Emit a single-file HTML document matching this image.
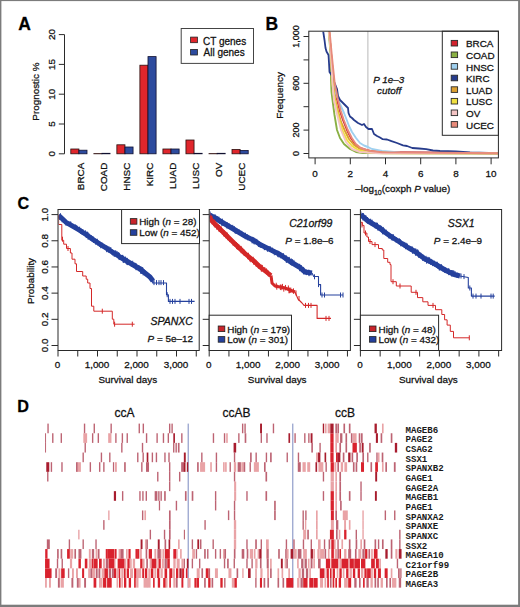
<!DOCTYPE html>
<html><head><meta charset="utf-8"><style>
html,body{margin:0;padding:0;background:#fff;}
svg{display:block;}
text{stroke:#222;stroke-width:0.28px;paint-order:stroke;}
</style></head><body>
<svg width="520" height="607" viewBox="0 0 520 607">
<rect x="0" y="0" width="520" height="607" fill="#7c7c7c"/>
<rect x="1.4" y="1.1" width="516.7" height="603.6" fill="#fff"/>
<text x="18.30" y="30.00" font-family="Liberation Sans, sans-serif" font-size="17.5" text-anchor="start" font-weight="bold" fill="#000">A</text>
<line x1="64.50" y1="153.80" x2="64.50" y2="34.60" stroke="#2a2a2a" stroke-width="1"/>
<line x1="58.80" y1="153.80" x2="64.50" y2="153.80" stroke="#2a2a2a" stroke-width="1"/>
<text transform="translate(54.80,153.80) rotate(-90)" font-family="Liberation Sans, sans-serif" font-size="9.9" text-anchor="middle" fill="#111">0</text>
<line x1="58.80" y1="124.00" x2="64.50" y2="124.00" stroke="#2a2a2a" stroke-width="1"/>
<text transform="translate(54.80,124.00) rotate(-90)" font-family="Liberation Sans, sans-serif" font-size="9.9" text-anchor="middle" fill="#111">5</text>
<line x1="58.80" y1="94.20" x2="64.50" y2="94.20" stroke="#2a2a2a" stroke-width="1"/>
<text transform="translate(54.80,94.20) rotate(-90)" font-family="Liberation Sans, sans-serif" font-size="9.9" text-anchor="middle" fill="#111">10</text>
<line x1="58.80" y1="64.40" x2="64.50" y2="64.40" stroke="#2a2a2a" stroke-width="1"/>
<text transform="translate(54.80,64.40) rotate(-90)" font-family="Liberation Sans, sans-serif" font-size="9.9" text-anchor="middle" fill="#111">15</text>
<line x1="58.80" y1="34.60" x2="64.50" y2="34.60" stroke="#2a2a2a" stroke-width="1"/>
<text transform="translate(54.80,34.60) rotate(-90)" font-family="Liberation Sans, sans-serif" font-size="9.9" text-anchor="middle" fill="#111">20</text>
<text transform="translate(38.60,91.60) rotate(-90)" font-family="Liberation Sans, sans-serif" font-size="9.9" text-anchor="middle" fill="#111">Prognostic %</text>
<rect x="70.80" y="149.00" width="8.10" height="4.80" fill="#e0262c" stroke="#2a1010" stroke-width="0.8"/>
<rect x="78.90" y="150.20" width="8.10" height="3.60" fill="#2d4b9e" stroke="#101030" stroke-width="0.8"/>
<text transform="translate(83.60,162.70) rotate(-90)" font-family="Liberation Sans, sans-serif" font-size="9.9" text-anchor="end" fill="#111">BRCA</text>
<rect x="93.83" y="153.60" width="8.10" height="0.20" fill="#e0262c" stroke="#2a1010" stroke-width="0.8"/>
<rect x="101.93" y="153.30" width="8.10" height="0.50" fill="#2d4b9e" stroke="#101030" stroke-width="0.8"/>
<text transform="translate(106.63,162.70) rotate(-90)" font-family="Liberation Sans, sans-serif" font-size="9.9" text-anchor="end" fill="#111">COAD</text>
<rect x="116.86" y="144.80" width="8.10" height="9.00" fill="#e0262c" stroke="#2a1010" stroke-width="0.8"/>
<rect x="124.96" y="147.00" width="8.10" height="6.80" fill="#2d4b9e" stroke="#101030" stroke-width="0.8"/>
<text transform="translate(129.66,162.70) rotate(-90)" font-family="Liberation Sans, sans-serif" font-size="9.9" text-anchor="end" fill="#111">HNSC</text>
<rect x="139.89" y="65.20" width="8.10" height="88.60" fill="#e0262c" stroke="#2a1010" stroke-width="0.8"/>
<rect x="147.99" y="56.60" width="8.10" height="97.20" fill="#2d4b9e" stroke="#101030" stroke-width="0.8"/>
<text transform="translate(152.69,162.70) rotate(-90)" font-family="Liberation Sans, sans-serif" font-size="9.9" text-anchor="end" fill="#111">KIRC</text>
<rect x="162.92" y="149.00" width="8.10" height="4.80" fill="#e0262c" stroke="#2a1010" stroke-width="0.8"/>
<rect x="171.02" y="149.00" width="8.10" height="4.80" fill="#2d4b9e" stroke="#101030" stroke-width="0.8"/>
<text transform="translate(175.72,162.70) rotate(-90)" font-family="Liberation Sans, sans-serif" font-size="9.9" text-anchor="end" fill="#111">LUAD</text>
<rect x="185.95" y="140.00" width="8.10" height="13.80" fill="#e0262c" stroke="#2a1010" stroke-width="0.8"/>
<rect x="194.05" y="153.30" width="8.10" height="0.50" fill="#2d4b9e" stroke="#101030" stroke-width="0.8"/>
<text transform="translate(198.75,162.70) rotate(-90)" font-family="Liberation Sans, sans-serif" font-size="9.9" text-anchor="end" fill="#111">LUSC</text>
<rect x="208.98" y="153.60" width="8.10" height="0.20" fill="#e0262c" stroke="#2a1010" stroke-width="0.8"/>
<rect x="217.08" y="153.30" width="8.10" height="0.50" fill="#2d4b9e" stroke="#101030" stroke-width="0.8"/>
<text transform="translate(221.78,162.70) rotate(-90)" font-family="Liberation Sans, sans-serif" font-size="9.9" text-anchor="end" fill="#111">OV</text>
<rect x="232.01" y="149.40" width="8.10" height="4.40" fill="#e0262c" stroke="#2a1010" stroke-width="0.8"/>
<rect x="240.11" y="150.40" width="8.10" height="3.40" fill="#2d4b9e" stroke="#101030" stroke-width="0.8"/>
<text transform="translate(244.81,162.70) rotate(-90)" font-family="Liberation Sans, sans-serif" font-size="9.9" text-anchor="end" fill="#111">UCEC</text>
<rect x="181.20" y="28.50" width="72.30" height="34.90" fill="none" stroke="#444" stroke-width="1"/>
<rect x="190.60" y="37.10" width="6.80" height="5.60" fill="#e0262c" stroke="#222" stroke-width="0.8"/>
<rect x="190.60" y="49.40" width="6.80" height="5.60" fill="#2d4b9e" stroke="#222" stroke-width="0.8"/>
<text x="203.00" y="44.80" font-family="Liberation Sans, sans-serif" font-size="10" text-anchor="start" fill="#111">CT genes</text>
<text x="203.50" y="55.90" font-family="Liberation Sans, sans-serif" font-size="10" text-anchor="start" fill="#111">All genes</text>
<text x="265.60" y="30.00" font-family="Liberation Sans, sans-serif" font-size="17.5" text-anchor="start" font-weight="bold" fill="#000">B</text>
<line x1="367.90" y1="31.20" x2="367.90" y2="157.90" stroke="#b8b8b8" stroke-width="1"/>
<text x="388.70" y="82.90" font-family="Liberation Sans, sans-serif" font-size="9.9" text-anchor="middle" font-style="italic" fill="#111">P 1e–3</text>
<text x="389.20" y="93.70" font-family="Liberation Sans, sans-serif" font-size="9.9" text-anchor="middle" font-style="italic" fill="#111">cutoff</text>
<defs><clipPath id="cb"><rect x="309.3" y="31.7" width="188.6" height="125.7"/></clipPath></defs>
<g clip-path="url(#cb)">
<polyline points="328.8,28.0 331.0,53.0 332.0,64.0 334.0,84.0 337.0,99.0 340.0,111.0 343.0,120.0 347.0,130.0 351.0,138.0 355.0,144.0 360.0,148.0 366.0,150.0 370.0,151.0 382.0,152.0 498.0,153.2" fill="none" stroke="#d2222e" stroke-width="1.9" stroke-linejoin="round"/>
<polyline points="328.5,28.0 330.5,53.0 331.0,64.0 331.0,80.0 331.5,92.0 333.0,104.0 334.5,115.0 336.0,124.0 337.0,130.0 340.0,138.0 344.0,144.0 350.0,149.0 356.0,152.0 363.0,153.0 498.0,153.5" fill="none" stroke="#8ab044" stroke-width="1.9" stroke-linejoin="round"/>
<polyline points="328.8,28.0 331.0,53.0 333.0,73.0 334.5,85.0 336.0,94.0 340.0,104.0 344.0,113.0 346.0,118.0 349.0,126.0 352.0,132.0 356.0,138.0 360.0,143.0 364.0,145.5 368.0,147.0 372.0,149.0 382.0,151.0 400.0,152.5 498.0,153.3" fill="none" stroke="#9fd0ef" stroke-width="1.9" stroke-linejoin="round"/>
<polyline points="322.9,28.0 323.2,31.5 324.5,40.0 325.5,48.0 326.5,51.5 328.5,55.0 329.0,63.0 329.5,72.0 331.5,75.0 334.0,82.0 335.0,84.0 337.0,89.0 338.0,96.0 340.0,100.0 343.0,103.0 346.0,106.0 348.0,108.0 348.5,113.0 350.0,116.5 352.0,118.0 354.0,120.0 358.0,123.0 362.0,125.0 364.0,124.0 366.0,127.0 368.5,129.0 372.0,129.0 374.0,134.0 377.0,136.0 380.0,137.5 382.7,139.2 387.0,139.5 391.5,141.2 397.0,143.0 403.0,145.3 407.0,146.0 412.3,148.0 419.0,148.5 426.2,149.2 433.0,150.5 440.0,151.0 456.0,151.5 470.0,152.5 498.0,153.2" fill="none" stroke="#273c8c" stroke-width="1.8" stroke-linejoin="round"/>
<polyline points="328.8,28.0 331.0,53.0 331.5,64.0 333.0,84.0 335.0,99.0 338.0,111.0 341.0,122.0 345.0,131.0 349.0,139.0 354.0,145.0 360.0,149.0 370.0,151.5 390.0,153.0 498.0,153.4" fill="none" stroke="#dca030" stroke-width="1.9" stroke-linejoin="round"/>
<polyline points="328.6,28.0 331.0,53.0 331.5,64.0 332.5,84.0 334.5,99.0 337.0,111.0 340.0,122.0 343.0,132.0 347.0,140.0 352.0,146.0 358.0,150.0 368.0,152.5 385.0,153.3 498.0,153.4" fill="none" stroke="#f0e040" stroke-width="1.9" stroke-linejoin="round"/>
<polyline points="328.6,28.0 331.0,53.0 331.5,64.0 332.5,84.0 334.0,100.0 336.5,112.0 339.0,122.0 341.0,130.0 346.0,142.0 352.0,149.0 360.0,152.0 380.0,153.3 498.0,153.4" fill="none" stroke="#f4c4c4" stroke-width="1.9" stroke-linejoin="round"/>
<polyline points="329.3,28.0 331.6,53.0 332.7,64.0 334.8,84.0 337.8,99.0 340.8,111.0 343.8,120.0 347.8,130.0 351.8,138.0 355.8,144.0 360.8,148.0 366.8,150.0 371.0,151.0 382.0,152.3 498.0,153.2" fill="none" stroke="#e88a7a" stroke-width="1.9" stroke-linejoin="round"/>
</g>
<rect x="308.80" y="31.20" width="189.60" height="126.70" fill="none" stroke="#2a2a2a" stroke-width="1"/>
<line x1="303.50" y1="153.50" x2="308.80" y2="153.50" stroke="#2a2a2a" stroke-width="1"/>
<line x1="303.50" y1="130.10" x2="308.80" y2="130.10" stroke="#2a2a2a" stroke-width="1"/>
<line x1="303.50" y1="106.70" x2="308.80" y2="106.70" stroke="#2a2a2a" stroke-width="1"/>
<line x1="303.50" y1="83.30" x2="308.80" y2="83.30" stroke="#2a2a2a" stroke-width="1"/>
<line x1="303.50" y1="59.90" x2="308.80" y2="59.90" stroke="#2a2a2a" stroke-width="1"/>
<line x1="303.50" y1="36.50" x2="308.80" y2="36.50" stroke="#2a2a2a" stroke-width="1"/>
<text transform="translate(299.20,153.50) rotate(-90)" font-family="Liberation Sans, sans-serif" font-size="9" text-anchor="middle" fill="#111">0</text>
<text transform="translate(299.20,130.10) rotate(-90)" font-family="Liberation Sans, sans-serif" font-size="9" text-anchor="middle" fill="#111">200</text>
<text transform="translate(299.20,83.30) rotate(-90)" font-family="Liberation Sans, sans-serif" font-size="9" text-anchor="middle" fill="#111">600</text>
<text transform="translate(299.20,36.50) rotate(-90)" font-family="Liberation Sans, sans-serif" font-size="9" text-anchor="middle" fill="#111">1,000</text>
<text transform="translate(283.30,95.40) rotate(-90)" font-family="Liberation Sans, sans-serif" font-size="9.9" text-anchor="middle" fill="#111">Frequency</text>
<line x1="315.10" y1="157.90" x2="315.10" y2="164.30" stroke="#2a2a2a" stroke-width="1"/>
<text x="315.10" y="176.60" font-family="Liberation Sans, sans-serif" font-size="9.9" text-anchor="middle" fill="#111">0</text>
<line x1="350.30" y1="157.90" x2="350.30" y2="164.30" stroke="#2a2a2a" stroke-width="1"/>
<text x="350.30" y="176.60" font-family="Liberation Sans, sans-serif" font-size="9.9" text-anchor="middle" fill="#111">2</text>
<line x1="385.50" y1="157.90" x2="385.50" y2="164.30" stroke="#2a2a2a" stroke-width="1"/>
<text x="385.50" y="176.60" font-family="Liberation Sans, sans-serif" font-size="9.9" text-anchor="middle" fill="#111">4</text>
<line x1="420.70" y1="157.90" x2="420.70" y2="164.30" stroke="#2a2a2a" stroke-width="1"/>
<text x="420.70" y="176.60" font-family="Liberation Sans, sans-serif" font-size="9.9" text-anchor="middle" fill="#111">6</text>
<line x1="455.90" y1="157.90" x2="455.90" y2="164.30" stroke="#2a2a2a" stroke-width="1"/>
<text x="455.90" y="176.60" font-family="Liberation Sans, sans-serif" font-size="9.9" text-anchor="middle" fill="#111">8</text>
<line x1="491.10" y1="157.90" x2="491.10" y2="164.30" stroke="#2a2a2a" stroke-width="1"/>
<text x="491.10" y="176.60" font-family="Liberation Sans, sans-serif" font-size="9.9" text-anchor="middle" fill="#111">10</text>
<text x="355.30" y="191.90" font-family="Liberation Sans, sans-serif" font-size="9.9" text-anchor="start" fill="#111">–log<tspan font-size="7" dy="2.6">10</tspan><tspan dy="-2.6">(coxph </tspan><tspan font-style="italic">P</tspan> value)</text>
<rect x="442.30" y="31.20" width="56.10" height="104.10" fill="none" stroke="#2a2a2a" stroke-width="1"/>
<rect x="451.20" y="40.40" width="6.40" height="5.60" fill="#d2222e" stroke="#2a2a2a" stroke-width="0.9"/>
<text x="466.00" y="47.40" font-family="Liberation Sans, sans-serif" font-size="9.9" text-anchor="start" fill="#111">BRCA</text>
<rect x="451.20" y="52.00" width="6.40" height="5.60" fill="#8ab044" stroke="#2a2a2a" stroke-width="0.9"/>
<text x="466.00" y="59.00" font-family="Liberation Sans, sans-serif" font-size="9.9" text-anchor="start" fill="#111">COAD</text>
<rect x="451.20" y="63.60" width="6.40" height="5.60" fill="#9fd0ef" stroke="#2a2a2a" stroke-width="0.9"/>
<text x="466.00" y="70.60" font-family="Liberation Sans, sans-serif" font-size="9.9" text-anchor="start" fill="#111">HNSC</text>
<rect x="451.20" y="75.20" width="6.40" height="5.60" fill="#273c8c" stroke="#2a2a2a" stroke-width="0.9"/>
<text x="466.00" y="82.20" font-family="Liberation Sans, sans-serif" font-size="9.9" text-anchor="start" fill="#111">KIRC</text>
<rect x="451.20" y="86.80" width="6.40" height="5.60" fill="#dca030" stroke="#2a2a2a" stroke-width="0.9"/>
<text x="466.00" y="93.80" font-family="Liberation Sans, sans-serif" font-size="9.9" text-anchor="start" fill="#111">LUAD</text>
<rect x="451.20" y="98.40" width="6.40" height="5.60" fill="#f0e040" stroke="#2a2a2a" stroke-width="0.9"/>
<text x="466.00" y="105.40" font-family="Liberation Sans, sans-serif" font-size="9.9" text-anchor="start" fill="#111">LUSC</text>
<rect x="451.20" y="110.00" width="6.40" height="5.60" fill="#f4c4c4" stroke="#2a2a2a" stroke-width="0.9"/>
<text x="466.00" y="117.00" font-family="Liberation Sans, sans-serif" font-size="9.9" text-anchor="start" fill="#111">OV</text>
<rect x="451.20" y="121.60" width="6.40" height="5.60" fill="#e88a7a" stroke="#2a2a2a" stroke-width="0.9"/>
<text x="466.00" y="128.60" font-family="Liberation Sans, sans-serif" font-size="9.9" text-anchor="start" fill="#111">UCEC</text>
<text x="17.40" y="208.80" font-family="Liberation Sans, sans-serif" font-size="16.2" text-anchor="start" font-weight="bold" fill="#000">C</text>
<line x1="51.50" y1="345.50" x2="58.00" y2="345.50" stroke="#2a2a2a" stroke-width="1"/>
<text transform="translate(48.40,345.50) rotate(-90)" font-family="Liberation Sans, sans-serif" font-size="9.9" text-anchor="middle" fill="#111">0.0</text>
<line x1="51.50" y1="319.32" x2="58.00" y2="319.32" stroke="#2a2a2a" stroke-width="1"/>
<text transform="translate(48.40,319.32) rotate(-90)" font-family="Liberation Sans, sans-serif" font-size="9.9" text-anchor="middle" fill="#111">0.2</text>
<line x1="51.50" y1="293.14" x2="58.00" y2="293.14" stroke="#2a2a2a" stroke-width="1"/>
<text transform="translate(48.40,293.14) rotate(-90)" font-family="Liberation Sans, sans-serif" font-size="9.9" text-anchor="middle" fill="#111">0.4</text>
<line x1="51.50" y1="266.96" x2="58.00" y2="266.96" stroke="#2a2a2a" stroke-width="1"/>
<text transform="translate(48.40,266.96) rotate(-90)" font-family="Liberation Sans, sans-serif" font-size="9.9" text-anchor="middle" fill="#111">0.6</text>
<line x1="51.50" y1="240.78" x2="58.00" y2="240.78" stroke="#2a2a2a" stroke-width="1"/>
<text transform="translate(48.40,240.78) rotate(-90)" font-family="Liberation Sans, sans-serif" font-size="9.9" text-anchor="middle" fill="#111">0.8</text>
<line x1="51.50" y1="214.60" x2="58.00" y2="214.60" stroke="#2a2a2a" stroke-width="1"/>
<text transform="translate(48.40,214.60) rotate(-90)" font-family="Liberation Sans, sans-serif" font-size="9.9" text-anchor="middle" fill="#111">1.0</text>
<line x1="58.00" y1="350.50" x2="58.00" y2="356.50" stroke="#2a2a2a" stroke-width="1"/>
<line x1="77.75" y1="350.50" x2="77.75" y2="356.50" stroke="#2a2a2a" stroke-width="1"/>
<line x1="97.50" y1="350.50" x2="97.50" y2="356.50" stroke="#2a2a2a" stroke-width="1"/>
<line x1="117.25" y1="350.50" x2="117.25" y2="356.50" stroke="#2a2a2a" stroke-width="1"/>
<line x1="137.00" y1="350.50" x2="137.00" y2="356.50" stroke="#2a2a2a" stroke-width="1"/>
<line x1="156.75" y1="350.50" x2="156.75" y2="356.50" stroke="#2a2a2a" stroke-width="1"/>
<line x1="176.50" y1="350.50" x2="176.50" y2="356.50" stroke="#2a2a2a" stroke-width="1"/>
<line x1="196.25" y1="350.50" x2="196.25" y2="356.50" stroke="#2a2a2a" stroke-width="1"/>
<text x="57.50" y="368.30" font-family="Liberation Sans, sans-serif" font-size="9.9" text-anchor="middle" fill="#111">0</text>
<text x="97.00" y="368.30" font-family="Liberation Sans, sans-serif" font-size="9.9" text-anchor="middle" fill="#111">1,000</text>
<text x="136.50" y="368.30" font-family="Liberation Sans, sans-serif" font-size="9.9" text-anchor="middle" fill="#111">2,000</text>
<text x="176.00" y="368.30" font-family="Liberation Sans, sans-serif" font-size="9.9" text-anchor="middle" fill="#111">3,000</text>
<text x="127.80" y="383.20" font-family="Liberation Sans, sans-serif" font-size="9.9" text-anchor="middle" fill="#111">Survival days</text>
<line x1="202.70" y1="345.50" x2="209.20" y2="345.50" stroke="#2a2a2a" stroke-width="1"/>
<line x1="202.70" y1="319.32" x2="209.20" y2="319.32" stroke="#2a2a2a" stroke-width="1"/>
<line x1="202.70" y1="293.14" x2="209.20" y2="293.14" stroke="#2a2a2a" stroke-width="1"/>
<line x1="202.70" y1="266.96" x2="209.20" y2="266.96" stroke="#2a2a2a" stroke-width="1"/>
<line x1="202.70" y1="240.78" x2="209.20" y2="240.78" stroke="#2a2a2a" stroke-width="1"/>
<line x1="202.70" y1="214.60" x2="209.20" y2="214.60" stroke="#2a2a2a" stroke-width="1"/>
<line x1="209.20" y1="350.50" x2="209.20" y2="356.50" stroke="#2a2a2a" stroke-width="1"/>
<line x1="228.95" y1="350.50" x2="228.95" y2="356.50" stroke="#2a2a2a" stroke-width="1"/>
<line x1="248.70" y1="350.50" x2="248.70" y2="356.50" stroke="#2a2a2a" stroke-width="1"/>
<line x1="268.45" y1="350.50" x2="268.45" y2="356.50" stroke="#2a2a2a" stroke-width="1"/>
<line x1="288.20" y1="350.50" x2="288.20" y2="356.50" stroke="#2a2a2a" stroke-width="1"/>
<line x1="307.95" y1="350.50" x2="307.95" y2="356.50" stroke="#2a2a2a" stroke-width="1"/>
<line x1="327.70" y1="350.50" x2="327.70" y2="356.50" stroke="#2a2a2a" stroke-width="1"/>
<line x1="347.45" y1="350.50" x2="347.45" y2="356.50" stroke="#2a2a2a" stroke-width="1"/>
<text x="208.70" y="368.30" font-family="Liberation Sans, sans-serif" font-size="9.9" text-anchor="middle" fill="#111">0</text>
<text x="248.20" y="368.30" font-family="Liberation Sans, sans-serif" font-size="9.9" text-anchor="middle" fill="#111">1,000</text>
<text x="287.70" y="368.30" font-family="Liberation Sans, sans-serif" font-size="9.9" text-anchor="middle" fill="#111">2,000</text>
<text x="327.20" y="368.30" font-family="Liberation Sans, sans-serif" font-size="9.9" text-anchor="middle" fill="#111">3,000</text>
<text x="277.20" y="383.20" font-family="Liberation Sans, sans-serif" font-size="9.9" text-anchor="middle" fill="#111">Survival days</text>
<line x1="353.90" y1="345.50" x2="360.40" y2="345.50" stroke="#2a2a2a" stroke-width="1"/>
<line x1="353.90" y1="319.32" x2="360.40" y2="319.32" stroke="#2a2a2a" stroke-width="1"/>
<line x1="353.90" y1="293.14" x2="360.40" y2="293.14" stroke="#2a2a2a" stroke-width="1"/>
<line x1="353.90" y1="266.96" x2="360.40" y2="266.96" stroke="#2a2a2a" stroke-width="1"/>
<line x1="353.90" y1="240.78" x2="360.40" y2="240.78" stroke="#2a2a2a" stroke-width="1"/>
<line x1="353.90" y1="214.60" x2="360.40" y2="214.60" stroke="#2a2a2a" stroke-width="1"/>
<line x1="360.40" y1="350.50" x2="360.40" y2="356.50" stroke="#2a2a2a" stroke-width="1"/>
<line x1="380.15" y1="350.50" x2="380.15" y2="356.50" stroke="#2a2a2a" stroke-width="1"/>
<line x1="399.90" y1="350.50" x2="399.90" y2="356.50" stroke="#2a2a2a" stroke-width="1"/>
<line x1="419.65" y1="350.50" x2="419.65" y2="356.50" stroke="#2a2a2a" stroke-width="1"/>
<line x1="439.40" y1="350.50" x2="439.40" y2="356.50" stroke="#2a2a2a" stroke-width="1"/>
<line x1="459.15" y1="350.50" x2="459.15" y2="356.50" stroke="#2a2a2a" stroke-width="1"/>
<line x1="478.90" y1="350.50" x2="478.90" y2="356.50" stroke="#2a2a2a" stroke-width="1"/>
<line x1="498.65" y1="350.50" x2="498.65" y2="356.50" stroke="#2a2a2a" stroke-width="1"/>
<text x="359.90" y="368.30" font-family="Liberation Sans, sans-serif" font-size="9.9" text-anchor="middle" fill="#111">0</text>
<text x="399.40" y="368.30" font-family="Liberation Sans, sans-serif" font-size="9.9" text-anchor="middle" fill="#111">1,000</text>
<text x="438.90" y="368.30" font-family="Liberation Sans, sans-serif" font-size="9.9" text-anchor="middle" fill="#111">2,000</text>
<text x="478.40" y="368.30" font-family="Liberation Sans, sans-serif" font-size="9.9" text-anchor="middle" fill="#111">3,000</text>
<text x="428.40" y="383.20" font-family="Liberation Sans, sans-serif" font-size="9.9" text-anchor="middle" fill="#111">Survival days</text>
<text transform="translate(34.20,281.00) rotate(-90)" font-family="Liberation Sans, sans-serif" font-size="9.9" text-anchor="middle" fill="#111">Probability</text>
<defs><clipPath id="kmc"><rect x="58.5" y="209.9" width="140.4" height="140.2"/><rect x="209.7" y="209.9" width="140.4" height="140.2"/><rect x="360.9" y="209.9" width="140.4" height="140.2"/></clipPath></defs>
<g clip-path="url(#kmc)">
<polyline points="58.6,215.3 66.0,222.3 76.0,228.0 86.0,234.5 96.0,241.5 107.5,248.8 120.0,257.0 130.0,263.0 140.0,269.0 145.0,273.0 150.0,277.0 153.0,281.0" fill="none" stroke="#25419d" stroke-width="5.0" stroke-linejoin="round" stroke-linecap="butt"/>
<line x1="80.86" y1="228.51" x2="80.86" y2="234.01" stroke="#25419d" stroke-width="1"/>
<line x1="93.47" y1="237.23" x2="93.47" y2="242.73" stroke="#25419d" stroke-width="1"/>
<line x1="118.24" y1="252.05" x2="118.24" y2="257.55" stroke="#25419d" stroke-width="1"/>
<line x1="59.71" y1="214.41" x2="59.71" y2="219.91" stroke="#25419d" stroke-width="1"/>
<line x1="82.93" y1="229.12" x2="82.93" y2="234.62" stroke="#25419d" stroke-width="1"/>
<line x1="152.70" y1="277.78" x2="152.70" y2="283.28" stroke="#25419d" stroke-width="1"/>
<line x1="139.07" y1="265.63" x2="139.07" y2="271.13" stroke="#25419d" stroke-width="1"/>
<line x1="119.52" y1="253.10" x2="119.52" y2="258.60" stroke="#25419d" stroke-width="1"/>
<line x1="119.12" y1="254.55" x2="119.12" y2="260.05" stroke="#25419d" stroke-width="1"/>
<line x1="108.33" y1="247.17" x2="108.33" y2="252.67" stroke="#25419d" stroke-width="1"/>
<line x1="122.72" y1="254.83" x2="122.72" y2="260.33" stroke="#25419d" stroke-width="1"/>
<line x1="131.32" y1="261.26" x2="131.32" y2="266.76" stroke="#25419d" stroke-width="1"/>
<line x1="86.97" y1="231.30" x2="86.97" y2="236.80" stroke="#25419d" stroke-width="1"/>
<line x1="141.77" y1="267.60" x2="141.77" y2="273.10" stroke="#25419d" stroke-width="1"/>
<line x1="127.41" y1="259.61" x2="127.41" y2="265.11" stroke="#25419d" stroke-width="1"/>
<line x1="126.95" y1="259.43" x2="126.95" y2="264.93" stroke="#25419d" stroke-width="1"/>
<line x1="95.84" y1="239.36" x2="95.84" y2="244.86" stroke="#25419d" stroke-width="1"/>
<line x1="100.68" y1="242.76" x2="100.68" y2="248.26" stroke="#25419d" stroke-width="1"/>
<line x1="142.98" y1="267.66" x2="142.98" y2="273.16" stroke="#25419d" stroke-width="1"/>
<line x1="70.80" y1="221.61" x2="70.80" y2="227.11" stroke="#25419d" stroke-width="1"/>
<line x1="150.61" y1="274.91" x2="150.61" y2="280.41" stroke="#25419d" stroke-width="1"/>
<line x1="118.32" y1="252.67" x2="118.32" y2="258.17" stroke="#25419d" stroke-width="1"/>
<line x1="106.78" y1="245.32" x2="106.78" y2="250.82" stroke="#25419d" stroke-width="1"/>
<line x1="91.67" y1="235.92" x2="91.67" y2="241.42" stroke="#25419d" stroke-width="1"/>
<line x1="114.23" y1="251.43" x2="114.23" y2="256.93" stroke="#25419d" stroke-width="1"/>
<line x1="123.76" y1="257.54" x2="123.76" y2="263.04" stroke="#25419d" stroke-width="1"/>
<line x1="140.95" y1="268.19" x2="140.95" y2="273.69" stroke="#25419d" stroke-width="1"/>
<line x1="122.70" y1="255.06" x2="122.70" y2="260.56" stroke="#25419d" stroke-width="1"/>
<line x1="141.33" y1="268.43" x2="141.33" y2="273.93" stroke="#25419d" stroke-width="1"/>
<line x1="145.31" y1="270.66" x2="145.31" y2="276.16" stroke="#25419d" stroke-width="1"/>
<line x1="126.92" y1="257.71" x2="126.92" y2="263.21" stroke="#25419d" stroke-width="1"/>
<line x1="138.59" y1="265.58" x2="138.59" y2="271.08" stroke="#25419d" stroke-width="1"/>
<line x1="85.41" y1="230.32" x2="85.41" y2="235.82" stroke="#25419d" stroke-width="1"/>
<line x1="140.73" y1="268.01" x2="140.73" y2="273.51" stroke="#25419d" stroke-width="1"/>
<line x1="66.04" y1="220.29" x2="66.04" y2="225.79" stroke="#25419d" stroke-width="1"/>
<line x1="97.34" y1="238.76" x2="97.34" y2="244.26" stroke="#25419d" stroke-width="1"/>
<line x1="86.27" y1="232.58" x2="86.27" y2="238.08" stroke="#25419d" stroke-width="1"/>
<line x1="142.43" y1="267.10" x2="142.43" y2="272.60" stroke="#25419d" stroke-width="1"/>
<line x1="117.15" y1="251.29" x2="117.15" y2="256.79" stroke="#25419d" stroke-width="1"/>
<line x1="127.38" y1="258.27" x2="127.38" y2="263.77" stroke="#25419d" stroke-width="1"/>
<line x1="143.16" y1="269.93" x2="143.16" y2="275.43" stroke="#25419d" stroke-width="1"/>
<line x1="106.61" y1="246.68" x2="106.61" y2="252.18" stroke="#25419d" stroke-width="1"/>
<line x1="87.76" y1="231.97" x2="87.76" y2="237.47" stroke="#25419d" stroke-width="1"/>
<line x1="115.73" y1="250.32" x2="115.73" y2="255.82" stroke="#25419d" stroke-width="1"/>
<line x1="76.93" y1="225.63" x2="76.93" y2="231.13" stroke="#25419d" stroke-width="1"/>
<line x1="116.76" y1="251.30" x2="116.76" y2="256.80" stroke="#25419d" stroke-width="1"/>
<line x1="62.16" y1="216.80" x2="62.16" y2="222.30" stroke="#25419d" stroke-width="1"/>
<line x1="88.16" y1="234.36" x2="88.16" y2="239.86" stroke="#25419d" stroke-width="1"/>
<line x1="144.58" y1="269.62" x2="144.58" y2="275.12" stroke="#25419d" stroke-width="1"/>
<line x1="102.22" y1="242.74" x2="102.22" y2="248.24" stroke="#25419d" stroke-width="1"/>
<line x1="119.99" y1="254.47" x2="119.99" y2="259.97" stroke="#25419d" stroke-width="1"/>
<line x1="111.82" y1="249.17" x2="111.82" y2="254.67" stroke="#25419d" stroke-width="1"/>
<line x1="148.55" y1="273.10" x2="148.55" y2="278.60" stroke="#25419d" stroke-width="1"/>
<line x1="99.37" y1="241.41" x2="99.37" y2="246.91" stroke="#25419d" stroke-width="1"/>
<line x1="80.83" y1="227.91" x2="80.83" y2="233.41" stroke="#25419d" stroke-width="1"/>
<line x1="151.46" y1="276.25" x2="151.46" y2="281.75" stroke="#25419d" stroke-width="1"/>
<line x1="110.77" y1="247.02" x2="110.77" y2="252.52" stroke="#25419d" stroke-width="1"/>
<line x1="97.81" y1="240.09" x2="97.81" y2="245.59" stroke="#25419d" stroke-width="1"/>
<line x1="60.28" y1="214.42" x2="60.28" y2="219.92" stroke="#25419d" stroke-width="1"/>
<line x1="118.86" y1="252.45" x2="118.86" y2="257.95" stroke="#25419d" stroke-width="1"/>
<line x1="118.39" y1="253.11" x2="118.39" y2="258.61" stroke="#25419d" stroke-width="1"/>
<line x1="123.50" y1="255.99" x2="123.50" y2="261.49" stroke="#25419d" stroke-width="1"/>
<line x1="126.24" y1="258.56" x2="126.24" y2="264.06" stroke="#25419d" stroke-width="1"/>
<line x1="60.46" y1="213.26" x2="60.46" y2="218.76" stroke="#25419d" stroke-width="1"/>
<line x1="123.17" y1="257.27" x2="123.17" y2="262.77" stroke="#25419d" stroke-width="1"/>
<line x1="82.13" y1="229.13" x2="82.13" y2="234.63" stroke="#25419d" stroke-width="1"/>
<line x1="115.04" y1="250.57" x2="115.04" y2="256.07" stroke="#25419d" stroke-width="1"/>
<line x1="92.90" y1="236.13" x2="92.90" y2="241.63" stroke="#25419d" stroke-width="1"/>
<line x1="93.39" y1="237.16" x2="93.39" y2="242.66" stroke="#25419d" stroke-width="1"/>
<line x1="86.89" y1="232.08" x2="86.89" y2="237.58" stroke="#25419d" stroke-width="1"/>
<line x1="132.71" y1="260.74" x2="132.71" y2="266.24" stroke="#25419d" stroke-width="1"/>
<line x1="112.78" y1="250.08" x2="112.78" y2="255.58" stroke="#25419d" stroke-width="1"/>
<line x1="87.80" y1="232.34" x2="87.80" y2="237.84" stroke="#25419d" stroke-width="1"/>
<line x1="135.83" y1="263.12" x2="135.83" y2="268.62" stroke="#25419d" stroke-width="1"/>
<line x1="75.96" y1="225.07" x2="75.96" y2="230.57" stroke="#25419d" stroke-width="1"/>
<line x1="125.36" y1="256.51" x2="125.36" y2="262.01" stroke="#25419d" stroke-width="1"/>
<line x1="88.93" y1="233.40" x2="88.93" y2="238.90" stroke="#25419d" stroke-width="1"/>
<line x1="138.78" y1="265.37" x2="138.78" y2="270.87" stroke="#25419d" stroke-width="1"/>
<line x1="140.87" y1="266.15" x2="140.87" y2="271.65" stroke="#25419d" stroke-width="1"/>
<line x1="90.32" y1="235.14" x2="90.32" y2="240.64" stroke="#25419d" stroke-width="1"/>
<line x1="143.52" y1="268.95" x2="143.52" y2="274.45" stroke="#25419d" stroke-width="1"/>
<line x1="79.61" y1="226.68" x2="79.61" y2="232.18" stroke="#25419d" stroke-width="1"/>
<line x1="108.95" y1="246.26" x2="108.95" y2="251.76" stroke="#25419d" stroke-width="1"/>
<line x1="136.13" y1="264.74" x2="136.13" y2="270.24" stroke="#25419d" stroke-width="1"/>
<line x1="75.58" y1="224.48" x2="75.58" y2="229.98" stroke="#25419d" stroke-width="1"/>
<line x1="136.17" y1="264.29" x2="136.17" y2="269.79" stroke="#25419d" stroke-width="1"/>
<line x1="136.08" y1="263.52" x2="136.08" y2="269.02" stroke="#25419d" stroke-width="1"/>
<line x1="70.17" y1="221.43" x2="70.17" y2="226.93" stroke="#25419d" stroke-width="1"/>
<line x1="134.85" y1="262.61" x2="134.85" y2="268.11" stroke="#25419d" stroke-width="1"/>
<line x1="91.24" y1="235.22" x2="91.24" y2="240.72" stroke="#25419d" stroke-width="1"/>
<polyline points="153.0,281.0 153.0,283.0 166.5,283.0 166.5,294.7 168.4,294.7 168.4,301.4 194.6,301.4" fill="none" stroke="#25419d" stroke-width="1.1" stroke-linejoin="round"/>
<line x1="154.00" y1="280.10" x2="154.00" y2="285.10" stroke="#25419d" stroke-width="1.0"/>
<line x1="156.50" y1="280.10" x2="156.50" y2="285.10" stroke="#25419d" stroke-width="1.0"/>
<line x1="159.00" y1="280.10" x2="159.00" y2="285.10" stroke="#25419d" stroke-width="1.0"/>
<line x1="161.00" y1="280.10" x2="161.00" y2="285.10" stroke="#25419d" stroke-width="1.0"/>
<line x1="163.50" y1="280.10" x2="163.50" y2="285.10" stroke="#25419d" stroke-width="1.0"/>
<line x1="167.20" y1="292.20" x2="167.20" y2="297.20" stroke="#25419d" stroke-width="1.0"/>
<line x1="170.00" y1="298.90" x2="170.00" y2="303.90" stroke="#25419d" stroke-width="1.0"/>
<line x1="172.50" y1="298.90" x2="172.50" y2="303.90" stroke="#25419d" stroke-width="1.0"/>
<line x1="175.00" y1="298.90" x2="175.00" y2="303.90" stroke="#25419d" stroke-width="1.0"/>
<line x1="180.00" y1="298.90" x2="180.00" y2="303.90" stroke="#25419d" stroke-width="1.0"/>
<line x1="189.00" y1="298.90" x2="189.00" y2="303.90" stroke="#25419d" stroke-width="1.0"/>
<line x1="191.50" y1="298.90" x2="191.50" y2="303.90" stroke="#25419d" stroke-width="1.0"/>
<polyline points="58.6,214.6 58.6,224.5 61.8,224.5 61.8,240.3 63.7,240.3 63.7,244.2 66.5,244.2 66.5,248.5 70.4,248.5 70.4,253.0 72.0,253.0 72.0,259.2 75.0,259.2 75.0,263.8 76.5,263.8 76.5,271.5 82.7,271.5 82.7,276.0 86.2,276.0 86.2,279.2 87.7,279.2 87.7,283.0 90.0,283.0 90.0,288.5 91.5,288.5 91.5,306.2 93.8,306.2 93.8,311.2 112.3,311.2 112.3,319.2 113.8,319.2 113.8,324.2 134.6,324.2" fill="none" stroke="#d42828" stroke-width="1.0" stroke-linejoin="round"/>
<line x1="62.50" y1="236.70" x2="62.50" y2="241.70" stroke="#d42828" stroke-width="1.0"/>
<line x1="68.00" y1="246.00" x2="68.00" y2="251.00" stroke="#d42828" stroke-width="1.0"/>
<line x1="102.30" y1="308.70" x2="102.30" y2="313.70" stroke="#d42828" stroke-width="1.0"/>
<line x1="114.60" y1="321.70" x2="114.60" y2="326.70" stroke="#d42828" stroke-width="1.0"/>
<line x1="132.30" y1="321.70" x2="132.30" y2="326.70" stroke="#d42828" stroke-width="1.0"/>
<polyline points="209.6,214.8 215.0,218.0 225.0,224.0 235.0,230.0 245.0,236.0 255.0,241.0 260.0,244.5 270.0,249.5 280.0,254.5 290.0,261.5 300.0,267.5 305.0,272.0 312.0,273.0" fill="none" stroke="#25419d" stroke-width="5.0" stroke-linejoin="round" stroke-linecap="butt"/>
<line x1="252.61" y1="236.84" x2="252.61" y2="242.34" stroke="#25419d" stroke-width="1"/>
<line x1="303.26" y1="266.86" x2="303.26" y2="272.36" stroke="#25419d" stroke-width="1"/>
<line x1="210.08" y1="213.40" x2="210.08" y2="218.90" stroke="#25419d" stroke-width="1"/>
<line x1="299.63" y1="265.70" x2="299.63" y2="271.20" stroke="#25419d" stroke-width="1"/>
<line x1="254.16" y1="238.91" x2="254.16" y2="244.41" stroke="#25419d" stroke-width="1"/>
<line x1="303.86" y1="267.55" x2="303.86" y2="273.05" stroke="#25419d" stroke-width="1"/>
<line x1="286.14" y1="256.85" x2="286.14" y2="262.35" stroke="#25419d" stroke-width="1"/>
<line x1="277.95" y1="250.77" x2="277.95" y2="256.27" stroke="#25419d" stroke-width="1"/>
<line x1="239.01" y1="229.27" x2="239.01" y2="234.77" stroke="#25419d" stroke-width="1"/>
<line x1="232.75" y1="224.86" x2="232.75" y2="230.36" stroke="#25419d" stroke-width="1"/>
<line x1="270.07" y1="246.27" x2="270.07" y2="251.77" stroke="#25419d" stroke-width="1"/>
<line x1="292.53" y1="259.18" x2="292.53" y2="264.68" stroke="#25419d" stroke-width="1"/>
<line x1="301.76" y1="266.80" x2="301.76" y2="272.30" stroke="#25419d" stroke-width="1"/>
<line x1="303.54" y1="268.89" x2="303.54" y2="274.39" stroke="#25419d" stroke-width="1"/>
<line x1="301.41" y1="266.21" x2="301.41" y2="271.71" stroke="#25419d" stroke-width="1"/>
<line x1="210.94" y1="213.43" x2="210.94" y2="218.93" stroke="#25419d" stroke-width="1"/>
<line x1="227.09" y1="222.02" x2="227.09" y2="227.52" stroke="#25419d" stroke-width="1"/>
<line x1="277.94" y1="250.78" x2="277.94" y2="256.28" stroke="#25419d" stroke-width="1"/>
<line x1="251.97" y1="237.79" x2="251.97" y2="243.29" stroke="#25419d" stroke-width="1"/>
<line x1="272.56" y1="247.65" x2="272.56" y2="253.15" stroke="#25419d" stroke-width="1"/>
<line x1="235.29" y1="228.29" x2="235.29" y2="233.79" stroke="#25419d" stroke-width="1"/>
<line x1="258.39" y1="241.30" x2="258.39" y2="246.80" stroke="#25419d" stroke-width="1"/>
<line x1="245.41" y1="232.73" x2="245.41" y2="238.23" stroke="#25419d" stroke-width="1"/>
<line x1="264.34" y1="244.68" x2="264.34" y2="250.18" stroke="#25419d" stroke-width="1"/>
<line x1="227.03" y1="223.17" x2="227.03" y2="228.67" stroke="#25419d" stroke-width="1"/>
<line x1="303.36" y1="268.51" x2="303.36" y2="274.01" stroke="#25419d" stroke-width="1"/>
<line x1="293.89" y1="259.90" x2="293.89" y2="265.40" stroke="#25419d" stroke-width="1"/>
<line x1="274.30" y1="249.77" x2="274.30" y2="255.27" stroke="#25419d" stroke-width="1"/>
<line x1="214.69" y1="214.52" x2="214.69" y2="220.02" stroke="#25419d" stroke-width="1"/>
<line x1="236.93" y1="228.47" x2="236.93" y2="233.97" stroke="#25419d" stroke-width="1"/>
<line x1="252.95" y1="237.16" x2="252.95" y2="242.66" stroke="#25419d" stroke-width="1"/>
<line x1="289.15" y1="256.96" x2="289.15" y2="262.46" stroke="#25419d" stroke-width="1"/>
<line x1="215.19" y1="214.47" x2="215.19" y2="219.97" stroke="#25419d" stroke-width="1"/>
<line x1="222.29" y1="218.59" x2="222.29" y2="224.09" stroke="#25419d" stroke-width="1"/>
<line x1="309.03" y1="270.68" x2="309.03" y2="276.18" stroke="#25419d" stroke-width="1"/>
<line x1="218.37" y1="217.28" x2="218.37" y2="222.78" stroke="#25419d" stroke-width="1"/>
<line x1="241.74" y1="230.85" x2="241.74" y2="236.35" stroke="#25419d" stroke-width="1"/>
<line x1="245.35" y1="233.78" x2="245.35" y2="239.28" stroke="#25419d" stroke-width="1"/>
<line x1="269.85" y1="246.34" x2="269.85" y2="251.84" stroke="#25419d" stroke-width="1"/>
<line x1="229.05" y1="223.27" x2="229.05" y2="228.77" stroke="#25419d" stroke-width="1"/>
<line x1="222.20" y1="219.70" x2="222.20" y2="225.20" stroke="#25419d" stroke-width="1"/>
<line x1="283.27" y1="253.75" x2="283.27" y2="259.25" stroke="#25419d" stroke-width="1"/>
<line x1="217.74" y1="216.12" x2="217.74" y2="221.62" stroke="#25419d" stroke-width="1"/>
<line x1="247.68" y1="234.84" x2="247.68" y2="240.34" stroke="#25419d" stroke-width="1"/>
<line x1="289.74" y1="258.28" x2="289.74" y2="263.78" stroke="#25419d" stroke-width="1"/>
<line x1="291.61" y1="260.01" x2="291.61" y2="265.51" stroke="#25419d" stroke-width="1"/>
<line x1="253.87" y1="237.38" x2="253.87" y2="242.88" stroke="#25419d" stroke-width="1"/>
<line x1="260.25" y1="242.36" x2="260.25" y2="247.86" stroke="#25419d" stroke-width="1"/>
<line x1="252.69" y1="237.56" x2="252.69" y2="243.06" stroke="#25419d" stroke-width="1"/>
<line x1="256.80" y1="238.90" x2="256.80" y2="244.40" stroke="#25419d" stroke-width="1"/>
<line x1="264.46" y1="244.45" x2="264.46" y2="249.95" stroke="#25419d" stroke-width="1"/>
<line x1="216.90" y1="216.21" x2="216.90" y2="221.71" stroke="#25419d" stroke-width="1"/>
<line x1="253.26" y1="238.29" x2="253.26" y2="243.79" stroke="#25419d" stroke-width="1"/>
<line x1="304.66" y1="268.64" x2="304.66" y2="274.14" stroke="#25419d" stroke-width="1"/>
<line x1="301.25" y1="266.58" x2="301.25" y2="272.08" stroke="#25419d" stroke-width="1"/>
<line x1="236.27" y1="227.93" x2="236.27" y2="233.43" stroke="#25419d" stroke-width="1"/>
<line x1="222.14" y1="220.28" x2="222.14" y2="225.78" stroke="#25419d" stroke-width="1"/>
<line x1="277.87" y1="251.62" x2="277.87" y2="257.12" stroke="#25419d" stroke-width="1"/>
<line x1="290.73" y1="259.59" x2="290.73" y2="265.09" stroke="#25419d" stroke-width="1"/>
<line x1="284.99" y1="255.40" x2="284.99" y2="260.90" stroke="#25419d" stroke-width="1"/>
<line x1="220.10" y1="218.52" x2="220.10" y2="224.02" stroke="#25419d" stroke-width="1"/>
<line x1="210.10" y1="211.49" x2="210.10" y2="216.99" stroke="#25419d" stroke-width="1"/>
<line x1="288.93" y1="256.91" x2="288.93" y2="262.41" stroke="#25419d" stroke-width="1"/>
<line x1="218.95" y1="216.66" x2="218.95" y2="222.16" stroke="#25419d" stroke-width="1"/>
<line x1="299.68" y1="263.79" x2="299.68" y2="269.29" stroke="#25419d" stroke-width="1"/>
<line x1="212.00" y1="214.29" x2="212.00" y2="219.79" stroke="#25419d" stroke-width="1"/>
<line x1="221.95" y1="220.24" x2="221.95" y2="225.74" stroke="#25419d" stroke-width="1"/>
<line x1="279.07" y1="252.09" x2="279.07" y2="257.59" stroke="#25419d" stroke-width="1"/>
<line x1="306.41" y1="269.64" x2="306.41" y2="275.14" stroke="#25419d" stroke-width="1"/>
<line x1="291.37" y1="258.46" x2="291.37" y2="263.96" stroke="#25419d" stroke-width="1"/>
<line x1="288.26" y1="257.56" x2="288.26" y2="263.06" stroke="#25419d" stroke-width="1"/>
<line x1="283.19" y1="253.04" x2="283.19" y2="258.54" stroke="#25419d" stroke-width="1"/>
<line x1="286.47" y1="257.32" x2="286.47" y2="262.82" stroke="#25419d" stroke-width="1"/>
<line x1="215.83" y1="215.33" x2="215.83" y2="220.83" stroke="#25419d" stroke-width="1"/>
<line x1="267.45" y1="246.26" x2="267.45" y2="251.76" stroke="#25419d" stroke-width="1"/>
<line x1="234.24" y1="226.02" x2="234.24" y2="231.52" stroke="#25419d" stroke-width="1"/>
<line x1="235.03" y1="227.55" x2="235.03" y2="233.05" stroke="#25419d" stroke-width="1"/>
<line x1="286.92" y1="256.34" x2="286.92" y2="261.84" stroke="#25419d" stroke-width="1"/>
<line x1="247.07" y1="234.03" x2="247.07" y2="239.53" stroke="#25419d" stroke-width="1"/>
<line x1="245.24" y1="233.18" x2="245.24" y2="238.68" stroke="#25419d" stroke-width="1"/>
<line x1="218.08" y1="217.10" x2="218.08" y2="222.60" stroke="#25419d" stroke-width="1"/>
<line x1="308.84" y1="269.59" x2="308.84" y2="275.09" stroke="#25419d" stroke-width="1"/>
<line x1="286.32" y1="255.36" x2="286.32" y2="260.86" stroke="#25419d" stroke-width="1"/>
<line x1="280.83" y1="252.94" x2="280.83" y2="258.44" stroke="#25419d" stroke-width="1"/>
<line x1="279.10" y1="251.34" x2="279.10" y2="256.84" stroke="#25419d" stroke-width="1"/>
<line x1="259.03" y1="241.41" x2="259.03" y2="246.91" stroke="#25419d" stroke-width="1"/>
<line x1="301.21" y1="265.00" x2="301.21" y2="270.50" stroke="#25419d" stroke-width="1"/>
<line x1="219.36" y1="218.46" x2="219.36" y2="223.96" stroke="#25419d" stroke-width="1"/>
<line x1="302.91" y1="267.41" x2="302.91" y2="272.91" stroke="#25419d" stroke-width="1"/>
<line x1="255.07" y1="238.83" x2="255.07" y2="244.33" stroke="#25419d" stroke-width="1"/>
<polyline points="209.8,216.0 211.0,220.0 215.0,224.0 225.0,234.0 235.0,244.0 245.0,253.5 255.0,262.0 260.0,267.0 271.0,275.5" fill="none" stroke="#d42828" stroke-width="4.6" stroke-linejoin="round" stroke-linecap="butt"/>
<line x1="219.37" y1="225.06" x2="219.37" y2="230.56" stroke="#d42828" stroke-width="1"/>
<line x1="220.16" y1="226.62" x2="220.16" y2="232.12" stroke="#d42828" stroke-width="1"/>
<line x1="227.19" y1="232.80" x2="227.19" y2="238.30" stroke="#d42828" stroke-width="1"/>
<line x1="250.74" y1="256.72" x2="250.74" y2="262.22" stroke="#d42828" stroke-width="1"/>
<line x1="226.04" y1="232.78" x2="226.04" y2="238.28" stroke="#d42828" stroke-width="1"/>
<line x1="233.18" y1="240.28" x2="233.18" y2="245.78" stroke="#d42828" stroke-width="1"/>
<line x1="243.82" y1="249.07" x2="243.82" y2="254.57" stroke="#d42828" stroke-width="1"/>
<line x1="221.28" y1="226.39" x2="221.28" y2="231.89" stroke="#d42828" stroke-width="1"/>
<line x1="237.26" y1="243.12" x2="237.26" y2="248.62" stroke="#d42828" stroke-width="1"/>
<line x1="218.52" y1="224.44" x2="218.52" y2="229.94" stroke="#d42828" stroke-width="1"/>
<line x1="227.63" y1="234.54" x2="227.63" y2="240.04" stroke="#d42828" stroke-width="1"/>
<line x1="216.78" y1="224.21" x2="216.78" y2="229.71" stroke="#d42828" stroke-width="1"/>
<line x1="237.27" y1="243.64" x2="237.27" y2="249.14" stroke="#d42828" stroke-width="1"/>
<line x1="236.55" y1="243.53" x2="236.55" y2="249.03" stroke="#d42828" stroke-width="1"/>
<line x1="258.98" y1="263.37" x2="258.98" y2="268.87" stroke="#d42828" stroke-width="1"/>
<line x1="237.38" y1="244.04" x2="237.38" y2="249.54" stroke="#d42828" stroke-width="1"/>
<line x1="261.24" y1="264.97" x2="261.24" y2="270.47" stroke="#d42828" stroke-width="1"/>
<line x1="253.52" y1="259.10" x2="253.52" y2="264.60" stroke="#d42828" stroke-width="1"/>
<line x1="236.51" y1="242.04" x2="236.51" y2="247.54" stroke="#d42828" stroke-width="1"/>
<line x1="222.33" y1="229.10" x2="222.33" y2="234.60" stroke="#d42828" stroke-width="1"/>
<line x1="249.70" y1="255.85" x2="249.70" y2="261.35" stroke="#d42828" stroke-width="1"/>
<line x1="261.06" y1="264.45" x2="261.06" y2="269.95" stroke="#d42828" stroke-width="1"/>
<line x1="219.58" y1="225.25" x2="219.58" y2="230.75" stroke="#d42828" stroke-width="1"/>
<line x1="219.43" y1="226.17" x2="219.43" y2="231.67" stroke="#d42828" stroke-width="1"/>
<line x1="261.38" y1="266.27" x2="261.38" y2="271.77" stroke="#d42828" stroke-width="1"/>
<line x1="223.56" y1="230.68" x2="223.56" y2="236.18" stroke="#d42828" stroke-width="1"/>
<line x1="227.11" y1="233.17" x2="227.11" y2="238.67" stroke="#d42828" stroke-width="1"/>
<line x1="253.22" y1="256.74" x2="253.22" y2="262.24" stroke="#d42828" stroke-width="1"/>
<line x1="213.68" y1="220.73" x2="213.68" y2="226.23" stroke="#d42828" stroke-width="1"/>
<line x1="225.79" y1="231.70" x2="225.79" y2="237.20" stroke="#d42828" stroke-width="1"/>
<line x1="243.55" y1="249.79" x2="243.55" y2="255.29" stroke="#d42828" stroke-width="1"/>
<line x1="209.97" y1="213.42" x2="209.97" y2="218.92" stroke="#d42828" stroke-width="1"/>
<line x1="234.58" y1="240.79" x2="234.58" y2="246.29" stroke="#d42828" stroke-width="1"/>
<line x1="220.82" y1="227.28" x2="220.82" y2="232.78" stroke="#d42828" stroke-width="1"/>
<line x1="267.96" y1="270.14" x2="267.96" y2="275.64" stroke="#d42828" stroke-width="1"/>
<line x1="241.31" y1="246.33" x2="241.31" y2="251.83" stroke="#d42828" stroke-width="1"/>
<line x1="224.76" y1="231.40" x2="224.76" y2="236.90" stroke="#d42828" stroke-width="1"/>
<line x1="214.89" y1="222.07" x2="214.89" y2="227.57" stroke="#d42828" stroke-width="1"/>
<line x1="264.79" y1="266.98" x2="264.79" y2="272.48" stroke="#d42828" stroke-width="1"/>
<line x1="267.00" y1="269.36" x2="267.00" y2="274.86" stroke="#d42828" stroke-width="1"/>
<line x1="255.99" y1="260.86" x2="255.99" y2="266.36" stroke="#d42828" stroke-width="1"/>
<line x1="226.02" y1="232.69" x2="226.02" y2="238.19" stroke="#d42828" stroke-width="1"/>
<line x1="248.31" y1="254.30" x2="248.31" y2="259.80" stroke="#d42828" stroke-width="1"/>
<line x1="224.20" y1="231.06" x2="224.20" y2="236.56" stroke="#d42828" stroke-width="1"/>
<line x1="268.37" y1="271.13" x2="268.37" y2="276.63" stroke="#d42828" stroke-width="1"/>
<line x1="240.80" y1="245.83" x2="240.80" y2="251.33" stroke="#d42828" stroke-width="1"/>
<line x1="238.16" y1="243.90" x2="238.16" y2="249.40" stroke="#d42828" stroke-width="1"/>
<line x1="252.51" y1="257.56" x2="252.51" y2="263.06" stroke="#d42828" stroke-width="1"/>
<line x1="242.68" y1="247.79" x2="242.68" y2="253.29" stroke="#d42828" stroke-width="1"/>
<line x1="247.76" y1="253.41" x2="247.76" y2="258.91" stroke="#d42828" stroke-width="1"/>
<line x1="218.94" y1="226.13" x2="218.94" y2="231.63" stroke="#d42828" stroke-width="1"/>
<line x1="248.40" y1="252.73" x2="248.40" y2="258.23" stroke="#d42828" stroke-width="1"/>
<line x1="266.36" y1="268.31" x2="266.36" y2="273.81" stroke="#d42828" stroke-width="1"/>
<line x1="228.21" y1="234.99" x2="228.21" y2="240.49" stroke="#d42828" stroke-width="1"/>
<line x1="244.62" y1="250.52" x2="244.62" y2="256.02" stroke="#d42828" stroke-width="1"/>
<line x1="247.88" y1="253.10" x2="247.88" y2="258.60" stroke="#d42828" stroke-width="1"/>
<line x1="227.05" y1="232.52" x2="227.05" y2="238.02" stroke="#d42828" stroke-width="1"/>
<line x1="212.22" y1="218.99" x2="212.22" y2="224.49" stroke="#d42828" stroke-width="1"/>
<line x1="254.89" y1="259.26" x2="254.89" y2="264.76" stroke="#d42828" stroke-width="1"/>
<line x1="253.92" y1="257.99" x2="253.92" y2="263.49" stroke="#d42828" stroke-width="1"/>
<line x1="224.21" y1="230.18" x2="224.21" y2="235.68" stroke="#d42828" stroke-width="1"/>
<line x1="262.33" y1="264.95" x2="262.33" y2="270.45" stroke="#d42828" stroke-width="1"/>
<line x1="238.84" y1="244.29" x2="238.84" y2="249.79" stroke="#d42828" stroke-width="1"/>
<line x1="255.78" y1="259.68" x2="255.78" y2="265.18" stroke="#d42828" stroke-width="1"/>
<line x1="228.29" y1="234.31" x2="228.29" y2="239.81" stroke="#d42828" stroke-width="1"/>
<line x1="241.13" y1="247.73" x2="241.13" y2="253.23" stroke="#d42828" stroke-width="1"/>
<line x1="229.51" y1="236.59" x2="229.51" y2="242.09" stroke="#d42828" stroke-width="1"/>
<line x1="214.87" y1="220.57" x2="214.87" y2="226.07" stroke="#d42828" stroke-width="1"/>
<line x1="214.11" y1="219.43" x2="214.11" y2="224.93" stroke="#d42828" stroke-width="1"/>
<line x1="256.39" y1="261.18" x2="256.39" y2="266.68" stroke="#d42828" stroke-width="1"/>
<polyline points="312.0,273.0 313.7,276.5 318.5,276.5 318.5,284.6 320.6,284.6 320.6,295.0 343.0,295.0" fill="none" stroke="#25419d" stroke-width="1.1" stroke-linejoin="round"/>
<line x1="306.00" y1="269.50" x2="306.00" y2="274.50" stroke="#25419d" stroke-width="1.0"/>
<line x1="309.00" y1="270.50" x2="309.00" y2="275.50" stroke="#25419d" stroke-width="1.0"/>
<line x1="314.50" y1="274.30" x2="314.50" y2="279.30" stroke="#25419d" stroke-width="1.0"/>
<line x1="318.50" y1="282.10" x2="318.50" y2="287.10" stroke="#25419d" stroke-width="1.0"/>
<line x1="322.00" y1="292.50" x2="322.00" y2="297.50" stroke="#25419d" stroke-width="1.0"/>
<line x1="324.50" y1="292.50" x2="324.50" y2="297.50" stroke="#25419d" stroke-width="1.0"/>
<line x1="340.50" y1="292.50" x2="340.50" y2="297.50" stroke="#25419d" stroke-width="1.0"/>
<line x1="343.00" y1="292.50" x2="343.00" y2="297.50" stroke="#25419d" stroke-width="1.0"/>
<polyline points="271.0,275.5 272.0,283.0 275.0,286.0 285.0,288.0 290.0,290.0 295.0,292.0" fill="none" stroke="#d42828" stroke-width="3.0" stroke-linejoin="round" stroke-linecap="butt"/>
<line x1="271.80" y1="278.01" x2="271.80" y2="283.51" stroke="#d42828" stroke-width="1"/>
<line x1="276.81" y1="284.20" x2="276.81" y2="289.70" stroke="#d42828" stroke-width="1"/>
<line x1="289.39" y1="287.60" x2="289.39" y2="293.10" stroke="#d42828" stroke-width="1"/>
<line x1="282.45" y1="283.89" x2="282.45" y2="289.39" stroke="#d42828" stroke-width="1"/>
<line x1="276.23" y1="282.76" x2="276.23" y2="288.26" stroke="#d42828" stroke-width="1"/>
<line x1="280.38" y1="284.49" x2="280.38" y2="289.99" stroke="#d42828" stroke-width="1"/>
<line x1="271.88" y1="278.72" x2="271.88" y2="284.22" stroke="#d42828" stroke-width="1"/>
<line x1="288.36" y1="285.46" x2="288.36" y2="290.96" stroke="#d42828" stroke-width="1"/>
<line x1="289.01" y1="287.79" x2="289.01" y2="293.29" stroke="#d42828" stroke-width="1"/>
<line x1="293.46" y1="288.35" x2="293.46" y2="293.85" stroke="#d42828" stroke-width="1"/>
<line x1="281.18" y1="284.69" x2="281.18" y2="290.19" stroke="#d42828" stroke-width="1"/>
<line x1="283.79" y1="286.15" x2="283.79" y2="291.65" stroke="#d42828" stroke-width="1"/>
<line x1="285.46" y1="284.95" x2="285.46" y2="290.45" stroke="#d42828" stroke-width="1"/>
<line x1="290.74" y1="287.51" x2="290.74" y2="293.01" stroke="#d42828" stroke-width="1"/>
<polyline points="295.0,292.0 298.0,299.0 302.0,303.0 304.0,305.4 317.1,305.4 317.1,318.4 331.0,318.4" fill="none" stroke="#d42828" stroke-width="1.1" stroke-linejoin="round"/>
<line x1="296.00" y1="290.50" x2="296.00" y2="295.50" stroke="#d42828" stroke-width="1.0"/>
<line x1="299.00" y1="296.00" x2="299.00" y2="301.00" stroke="#d42828" stroke-width="1.0"/>
<line x1="305.50" y1="302.90" x2="305.50" y2="307.90" stroke="#d42828" stroke-width="1.0"/>
<line x1="308.50" y1="302.90" x2="308.50" y2="307.90" stroke="#d42828" stroke-width="1.0"/>
<line x1="311.00" y1="302.90" x2="311.00" y2="307.90" stroke="#d42828" stroke-width="1.0"/>
<line x1="326.00" y1="315.90" x2="326.00" y2="320.90" stroke="#d42828" stroke-width="1.0"/>
<line x1="329.00" y1="315.90" x2="329.00" y2="320.90" stroke="#d42828" stroke-width="1.0"/>
<polyline points="360.6,214.6 368.0,221.0 378.0,227.0 388.0,234.5 398.0,241.0 408.0,247.5 415.0,251.5 425.0,259.0 435.0,264.0 445.0,270.0 453.5,274.3 460.0,276.0" fill="none" stroke="#25419d" stroke-width="5.0" stroke-linejoin="round" stroke-linecap="butt"/>
<line x1="418.81" y1="252.15" x2="418.81" y2="257.65" stroke="#25419d" stroke-width="1"/>
<line x1="360.81" y1="212.68" x2="360.81" y2="218.18" stroke="#25419d" stroke-width="1"/>
<line x1="424.51" y1="255.86" x2="424.51" y2="261.36" stroke="#25419d" stroke-width="1"/>
<line x1="411.21" y1="246.49" x2="411.21" y2="251.99" stroke="#25419d" stroke-width="1"/>
<line x1="379.02" y1="225.08" x2="379.02" y2="230.58" stroke="#25419d" stroke-width="1"/>
<line x1="363.89" y1="214.70" x2="363.89" y2="220.20" stroke="#25419d" stroke-width="1"/>
<line x1="423.00" y1="254.62" x2="423.00" y2="260.12" stroke="#25419d" stroke-width="1"/>
<line x1="415.49" y1="250.22" x2="415.49" y2="255.72" stroke="#25419d" stroke-width="1"/>
<line x1="448.18" y1="267.99" x2="448.18" y2="273.49" stroke="#25419d" stroke-width="1"/>
<line x1="438.02" y1="263.36" x2="438.02" y2="268.86" stroke="#25419d" stroke-width="1"/>
<line x1="365.10" y1="215.40" x2="365.10" y2="220.90" stroke="#25419d" stroke-width="1"/>
<line x1="382.77" y1="226.82" x2="382.77" y2="232.32" stroke="#25419d" stroke-width="1"/>
<line x1="412.77" y1="248.51" x2="412.77" y2="254.01" stroke="#25419d" stroke-width="1"/>
<line x1="391.36" y1="234.82" x2="391.36" y2="240.32" stroke="#25419d" stroke-width="1"/>
<line x1="427.88" y1="256.81" x2="427.88" y2="262.31" stroke="#25419d" stroke-width="1"/>
<line x1="444.66" y1="267.29" x2="444.66" y2="272.79" stroke="#25419d" stroke-width="1"/>
<line x1="451.84" y1="271.23" x2="451.84" y2="276.73" stroke="#25419d" stroke-width="1"/>
<line x1="432.62" y1="259.68" x2="432.62" y2="265.18" stroke="#25419d" stroke-width="1"/>
<line x1="439.46" y1="264.96" x2="439.46" y2="270.46" stroke="#25419d" stroke-width="1"/>
<line x1="444.98" y1="267.09" x2="444.98" y2="272.59" stroke="#25419d" stroke-width="1"/>
<line x1="434.42" y1="260.92" x2="434.42" y2="266.42" stroke="#25419d" stroke-width="1"/>
<line x1="370.60" y1="218.71" x2="370.60" y2="224.21" stroke="#25419d" stroke-width="1"/>
<line x1="367.52" y1="217.12" x2="367.52" y2="222.62" stroke="#25419d" stroke-width="1"/>
<line x1="375.81" y1="222.93" x2="375.81" y2="228.43" stroke="#25419d" stroke-width="1"/>
<line x1="428.37" y1="258.02" x2="428.37" y2="263.52" stroke="#25419d" stroke-width="1"/>
<line x1="401.11" y1="240.63" x2="401.11" y2="246.13" stroke="#25419d" stroke-width="1"/>
<line x1="389.54" y1="232.66" x2="389.54" y2="238.16" stroke="#25419d" stroke-width="1"/>
<line x1="434.44" y1="260.74" x2="434.44" y2="266.24" stroke="#25419d" stroke-width="1"/>
<line x1="377.80" y1="225.09" x2="377.80" y2="230.59" stroke="#25419d" stroke-width="1"/>
<line x1="430.51" y1="258.69" x2="430.51" y2="264.19" stroke="#25419d" stroke-width="1"/>
<line x1="396.07" y1="237.07" x2="396.07" y2="242.57" stroke="#25419d" stroke-width="1"/>
<line x1="418.35" y1="250.60" x2="418.35" y2="256.10" stroke="#25419d" stroke-width="1"/>
<line x1="360.84" y1="211.36" x2="360.84" y2="216.86" stroke="#25419d" stroke-width="1"/>
<line x1="437.09" y1="261.65" x2="437.09" y2="267.15" stroke="#25419d" stroke-width="1"/>
<line x1="404.84" y1="241.96" x2="404.84" y2="247.46" stroke="#25419d" stroke-width="1"/>
<line x1="380.51" y1="225.34" x2="380.51" y2="230.84" stroke="#25419d" stroke-width="1"/>
<line x1="399.30" y1="238.30" x2="399.30" y2="243.80" stroke="#25419d" stroke-width="1"/>
<line x1="363.04" y1="213.03" x2="363.04" y2="218.53" stroke="#25419d" stroke-width="1"/>
<line x1="376.55" y1="223.36" x2="376.55" y2="228.86" stroke="#25419d" stroke-width="1"/>
<line x1="365.90" y1="215.29" x2="365.90" y2="220.79" stroke="#25419d" stroke-width="1"/>
<line x1="403.66" y1="241.71" x2="403.66" y2="247.21" stroke="#25419d" stroke-width="1"/>
<line x1="428.81" y1="257.08" x2="428.81" y2="262.58" stroke="#25419d" stroke-width="1"/>
<line x1="399.25" y1="238.82" x2="399.25" y2="244.32" stroke="#25419d" stroke-width="1"/>
<line x1="362.97" y1="215.02" x2="362.97" y2="220.52" stroke="#25419d" stroke-width="1"/>
<line x1="381.41" y1="225.84" x2="381.41" y2="231.34" stroke="#25419d" stroke-width="1"/>
<line x1="406.27" y1="242.82" x2="406.27" y2="248.32" stroke="#25419d" stroke-width="1"/>
<line x1="420.80" y1="252.73" x2="420.80" y2="258.23" stroke="#25419d" stroke-width="1"/>
<line x1="372.09" y1="219.63" x2="372.09" y2="225.13" stroke="#25419d" stroke-width="1"/>
<line x1="431.35" y1="258.89" x2="431.35" y2="264.39" stroke="#25419d" stroke-width="1"/>
<line x1="437.56" y1="262.70" x2="437.56" y2="268.20" stroke="#25419d" stroke-width="1"/>
<line x1="452.46" y1="270.55" x2="452.46" y2="276.05" stroke="#25419d" stroke-width="1"/>
<line x1="384.33" y1="228.44" x2="384.33" y2="233.94" stroke="#25419d" stroke-width="1"/>
<line x1="440.26" y1="264.72" x2="440.26" y2="270.22" stroke="#25419d" stroke-width="1"/>
<line x1="393.49" y1="234.34" x2="393.49" y2="239.84" stroke="#25419d" stroke-width="1"/>
<line x1="426.60" y1="258.17" x2="426.60" y2="263.67" stroke="#25419d" stroke-width="1"/>
<line x1="417.96" y1="249.78" x2="417.96" y2="255.28" stroke="#25419d" stroke-width="1"/>
<line x1="363.29" y1="213.20" x2="363.29" y2="218.70" stroke="#25419d" stroke-width="1"/>
<line x1="376.77" y1="222.40" x2="376.77" y2="227.90" stroke="#25419d" stroke-width="1"/>
<line x1="365.39" y1="216.36" x2="365.39" y2="221.86" stroke="#25419d" stroke-width="1"/>
<line x1="449.05" y1="268.58" x2="449.05" y2="274.08" stroke="#25419d" stroke-width="1"/>
<line x1="457.03" y1="272.42" x2="457.03" y2="277.92" stroke="#25419d" stroke-width="1"/>
<line x1="439.15" y1="264.74" x2="439.15" y2="270.24" stroke="#25419d" stroke-width="1"/>
<line x1="453.22" y1="270.29" x2="453.22" y2="275.79" stroke="#25419d" stroke-width="1"/>
<line x1="389.55" y1="233.01" x2="389.55" y2="238.51" stroke="#25419d" stroke-width="1"/>
<line x1="453.93" y1="270.67" x2="453.93" y2="276.17" stroke="#25419d" stroke-width="1"/>
<line x1="388.43" y1="232.87" x2="388.43" y2="238.37" stroke="#25419d" stroke-width="1"/>
<line x1="371.16" y1="219.88" x2="371.16" y2="225.38" stroke="#25419d" stroke-width="1"/>
<line x1="392.45" y1="235.07" x2="392.45" y2="240.57" stroke="#25419d" stroke-width="1"/>
<line x1="452.00" y1="270.01" x2="452.00" y2="275.51" stroke="#25419d" stroke-width="1"/>
<line x1="432.63" y1="260.62" x2="432.63" y2="266.12" stroke="#25419d" stroke-width="1"/>
<line x1="442.38" y1="265.81" x2="442.38" y2="271.31" stroke="#25419d" stroke-width="1"/>
<line x1="451.48" y1="270.20" x2="451.48" y2="275.70" stroke="#25419d" stroke-width="1"/>
<line x1="400.38" y1="239.15" x2="400.38" y2="244.65" stroke="#25419d" stroke-width="1"/>
<line x1="436.72" y1="262.23" x2="436.72" y2="267.73" stroke="#25419d" stroke-width="1"/>
<line x1="386.16" y1="229.58" x2="386.16" y2="235.08" stroke="#25419d" stroke-width="1"/>
<line x1="430.61" y1="259.31" x2="430.61" y2="264.81" stroke="#25419d" stroke-width="1"/>
<line x1="429.56" y1="258.26" x2="429.56" y2="263.76" stroke="#25419d" stroke-width="1"/>
<line x1="407.51" y1="243.60" x2="407.51" y2="249.10" stroke="#25419d" stroke-width="1"/>
<line x1="429.57" y1="257.39" x2="429.57" y2="262.89" stroke="#25419d" stroke-width="1"/>
<line x1="405.52" y1="243.76" x2="405.52" y2="249.26" stroke="#25419d" stroke-width="1"/>
<line x1="426.06" y1="255.82" x2="426.06" y2="261.32" stroke="#25419d" stroke-width="1"/>
<line x1="383.13" y1="228.92" x2="383.13" y2="234.42" stroke="#25419d" stroke-width="1"/>
<line x1="422.67" y1="255.41" x2="422.67" y2="260.91" stroke="#25419d" stroke-width="1"/>
<line x1="446.11" y1="267.69" x2="446.11" y2="273.19" stroke="#25419d" stroke-width="1"/>
<line x1="448.69" y1="269.68" x2="448.69" y2="275.18" stroke="#25419d" stroke-width="1"/>
<line x1="392.40" y1="234.30" x2="392.40" y2="239.80" stroke="#25419d" stroke-width="1"/>
<line x1="367.00" y1="217.14" x2="367.00" y2="222.64" stroke="#25419d" stroke-width="1"/>
<line x1="454.97" y1="270.99" x2="454.97" y2="276.49" stroke="#25419d" stroke-width="1"/>
<line x1="415.76" y1="248.39" x2="415.76" y2="253.89" stroke="#25419d" stroke-width="1"/>
<line x1="367.79" y1="218.42" x2="367.79" y2="223.92" stroke="#25419d" stroke-width="1"/>
<line x1="383.46" y1="227.26" x2="383.46" y2="232.76" stroke="#25419d" stroke-width="1"/>
<line x1="374.99" y1="222.79" x2="374.99" y2="228.29" stroke="#25419d" stroke-width="1"/>
<line x1="417.33" y1="249.32" x2="417.33" y2="254.82" stroke="#25419d" stroke-width="1"/>
<line x1="382.45" y1="228.71" x2="382.45" y2="234.21" stroke="#25419d" stroke-width="1"/>
<line x1="381.52" y1="227.04" x2="381.52" y2="232.54" stroke="#25419d" stroke-width="1"/>
<line x1="400.86" y1="240.78" x2="400.86" y2="246.28" stroke="#25419d" stroke-width="1"/>
<line x1="419.09" y1="252.51" x2="419.09" y2="258.01" stroke="#25419d" stroke-width="1"/>
<line x1="412.39" y1="246.51" x2="412.39" y2="252.01" stroke="#25419d" stroke-width="1"/>
<line x1="377.50" y1="222.94" x2="377.50" y2="228.44" stroke="#25419d" stroke-width="1"/>
<line x1="441.36" y1="264.13" x2="441.36" y2="269.63" stroke="#25419d" stroke-width="1"/>
<polyline points="460.0,276.0 468.3,277.5 468.3,288.0 471.4,288.0 471.4,296.1 494.7,296.1" fill="none" stroke="#25419d" stroke-width="1.1" stroke-linejoin="round"/>
<line x1="455.00" y1="272.10" x2="455.00" y2="277.10" stroke="#25419d" stroke-width="1.0"/>
<line x1="458.00" y1="272.80" x2="458.00" y2="277.80" stroke="#25419d" stroke-width="1.0"/>
<line x1="461.00" y1="273.50" x2="461.00" y2="278.50" stroke="#25419d" stroke-width="1.0"/>
<line x1="464.00" y1="274.10" x2="464.00" y2="279.10" stroke="#25419d" stroke-width="1.0"/>
<line x1="469.80" y1="285.50" x2="469.80" y2="290.50" stroke="#25419d" stroke-width="1.0"/>
<line x1="473.00" y1="293.60" x2="473.00" y2="298.60" stroke="#25419d" stroke-width="1.0"/>
<line x1="476.00" y1="293.60" x2="476.00" y2="298.60" stroke="#25419d" stroke-width="1.0"/>
<line x1="481.00" y1="293.60" x2="481.00" y2="298.60" stroke="#25419d" stroke-width="1.0"/>
<line x1="491.00" y1="293.60" x2="491.00" y2="298.60" stroke="#25419d" stroke-width="1.0"/>
<line x1="493.20" y1="293.60" x2="493.20" y2="298.60" stroke="#25419d" stroke-width="1.0"/>
<polyline points="360.5,214.6 360.5,222.3 362.3,222.3 362.3,225.4 364.0,225.4 364.0,233.0 366.9,233.0 366.9,237.0 368.5,237.0 368.5,241.5 372.0,241.5 372.0,244.6 378.5,244.6 378.5,248.5 382.3,248.5 382.3,250.0 383.8,250.0 383.8,258.5 387.7,258.5 387.7,262.3 390.0,262.3 390.0,264.6 391.0,264.6 391.0,281.7 396.3,281.7 396.3,286.0 411.2,286.0 411.2,292.3 417.5,292.3 417.5,297.6 422.8,297.6 422.8,301.8 428.0,301.8 428.0,305.4 435.5,305.4 435.5,309.7 441.8,309.7 441.8,314.5 444.6,314.5 444.6,319.8 447.1,319.8 447.1,325.1 450.3,325.1 450.3,331.4 453.5,331.4 453.5,337.8 469.3,337.8" fill="none" stroke="#d42828" stroke-width="1.0" stroke-linejoin="round"/>
<line x1="362.00" y1="222.50" x2="362.00" y2="227.50" stroke="#d42828" stroke-width="1.0"/>
<line x1="365.50" y1="230.50" x2="365.50" y2="235.50" stroke="#d42828" stroke-width="1.0"/>
<line x1="370.00" y1="239.00" x2="370.00" y2="244.00" stroke="#d42828" stroke-width="1.0"/>
<line x1="375.00" y1="242.10" x2="375.00" y2="247.10" stroke="#d42828" stroke-width="1.0"/>
<line x1="393.00" y1="279.20" x2="393.00" y2="284.20" stroke="#d42828" stroke-width="1.0"/>
<line x1="400.00" y1="283.50" x2="400.00" y2="288.50" stroke="#d42828" stroke-width="1.0"/>
<line x1="416.00" y1="289.80" x2="416.00" y2="294.80" stroke="#d42828" stroke-width="1.0"/>
<line x1="433.00" y1="302.90" x2="433.00" y2="307.90" stroke="#d42828" stroke-width="1.0"/>
<line x1="469.30" y1="335.30" x2="469.30" y2="340.30" stroke="#d42828" stroke-width="1.0"/>
</g>
<rect x="58.00" y="209.50" width="141.20" height="141.00" fill="none" stroke="#2a2a2a" stroke-width="1"/>
<rect x="209.20" y="209.50" width="141.20" height="141.00" fill="none" stroke="#2a2a2a" stroke-width="1"/>
<rect x="360.40" y="209.50" width="141.20" height="141.00" fill="none" stroke="#2a2a2a" stroke-width="1"/>
<rect x="121.60" y="209.50" width="77.90" height="34.10" fill="#fff" stroke="#2a2a2a" stroke-width="1"/>
<rect x="130.30" y="218.60" width="6.60" height="5.60" fill="#c8242a" stroke="#222" stroke-width="0.8"/>
<rect x="130.30" y="229.70" width="6.60" height="5.60" fill="#25419d" stroke="#222" stroke-width="0.8"/>
<text x="139.20" y="225.20" font-family="Liberation Sans, sans-serif" font-size="9.9" text-anchor="start" fill="#111">High (<tspan font-style="italic">n</tspan> = 28)</text>
<text x="139.20" y="236.20" font-family="Liberation Sans, sans-serif" font-size="9.9" text-anchor="start" fill="#111">Low (<tspan font-style="italic">n</tspan> = 452)</text>
<text x="192.90" y="324.70" font-family="Liberation Sans, sans-serif" font-size="10.5" text-anchor="end" font-style="italic" fill="#111">SPANXC</text>
<text x="192.90" y="342.00" font-family="Liberation Sans, sans-serif" font-size="9.9" text-anchor="end" fill="#111"><tspan font-style="italic">P</tspan> = 5e–12</text>
<rect x="209.20" y="315.20" width="82.30" height="35.30" fill="#fff" stroke="#2a2a2a" stroke-width="1"/>
<rect x="218.20" y="326.00" width="6.60" height="5.60" fill="#c8242a" stroke="#222" stroke-width="0.8"/>
<rect x="218.20" y="336.60" width="6.60" height="5.60" fill="#25419d" stroke="#222" stroke-width="0.8"/>
<text x="227.30" y="332.60" font-family="Liberation Sans, sans-serif" font-size="9.9" text-anchor="start" fill="#111">High (<tspan font-style="italic">n</tspan> = 179)</text>
<text x="227.30" y="343.10" font-family="Liberation Sans, sans-serif" font-size="9.9" text-anchor="start" fill="#111">Low (<tspan font-style="italic">n</tspan> = 301)</text>
<text x="332.40" y="226.60" font-family="Liberation Sans, sans-serif" font-size="10.5" text-anchor="end" font-style="italic" fill="#111">C21orf99</text>
<text x="333.40" y="244.20" font-family="Liberation Sans, sans-serif" font-size="9.9" text-anchor="end" fill="#111"><tspan font-style="italic">P</tspan> = 1.8e–6</text>
<rect x="360.40" y="315.20" width="78.20" height="35.30" fill="#fff" stroke="#2a2a2a" stroke-width="1"/>
<rect x="369.40" y="326.00" width="6.60" height="5.60" fill="#c8242a" stroke="#222" stroke-width="0.8"/>
<rect x="369.40" y="336.60" width="6.60" height="5.60" fill="#25419d" stroke="#222" stroke-width="0.8"/>
<text x="378.50" y="332.60" font-family="Liberation Sans, sans-serif" font-size="9.9" text-anchor="start" fill="#111">High (<tspan font-style="italic">n</tspan> = 48)</text>
<text x="378.50" y="343.10" font-family="Liberation Sans, sans-serif" font-size="9.9" text-anchor="start" fill="#111">Low (<tspan font-style="italic">n</tspan> = 432)</text>
<text x="474.70" y="226.60" font-family="Liberation Sans, sans-serif" font-size="10.5" text-anchor="end" font-style="italic" fill="#111">SSX1</text>
<text x="481.90" y="244.20" font-family="Liberation Sans, sans-serif" font-size="9.9" text-anchor="end" fill="#111"><tspan font-style="italic">P</tspan> = 2.4e–9</text>
<text x="17.20" y="412.20" font-family="Liberation Sans, sans-serif" font-size="16.2" text-anchor="start" font-weight="bold" fill="#000">D</text>
<text x="124.50" y="416.70" font-family="Liberation Sans, sans-serif" font-size="12" text-anchor="middle" fill="#111">ccA</text>
<text x="236.50" y="416.70" font-family="Liberation Sans, sans-serif" font-size="12" text-anchor="middle" fill="#111">ccAB</text>
<text x="345.10" y="416.70" font-family="Liberation Sans, sans-serif" font-size="12" text-anchor="middle" fill="#111">ccB</text>
<line x1="188.20" y1="423.60" x2="188.20" y2="587.65" stroke="#6272b4" stroke-width="0.85"/>
<line x1="292.80" y1="423.60" x2="292.80" y2="587.65" stroke="#6272b4" stroke-width="0.85"/>
<filter id="hb" x="-2%" y="-2%" width="104%" height="104%"><feGaussianBlur stdDeviation="0.45 0.3"/></filter>
<g filter="url(#hb)">
<rect x="160.47" y="549.05" width="2.33" height="9.65" fill="#f5d0d0" stroke="none" stroke-width="1"/>
<rect x="83.31" y="433.25" width="3.81" height="9.65" fill="#e9a3a6" stroke="none" stroke-width="1"/>
<rect x="108.17" y="433.25" width="3.27" height="9.65" fill="#e9a3a6" stroke="none" stroke-width="1"/>
<rect x="77.36" y="462.20" width="3.54" height="9.65" fill="#e9a3a6" stroke="none" stroke-width="1"/>
<rect x="108.17" y="510.45" width="1.38" height="9.65" fill="#e9a3a6" stroke="none" stroke-width="1"/>
<rect x="78.17" y="529.75" width="1.38" height="9.65" fill="#e9a3a6" stroke="none" stroke-width="1"/>
<rect x="70.20" y="549.05" width="3.00" height="9.65" fill="#e9a3a6" stroke="none" stroke-width="1"/>
<rect x="88.85" y="549.05" width="1.92" height="9.65" fill="#e9a3a6" stroke="none" stroke-width="1"/>
<rect x="95.61" y="549.05" width="1.92" height="9.65" fill="#e9a3a6" stroke="none" stroke-width="1"/>
<rect x="69.93" y="558.70" width="2.19" height="9.65" fill="#e9a3a6" stroke="none" stroke-width="1"/>
<rect x="88.85" y="558.70" width="2.60" height="9.65" fill="#e9a3a6" stroke="none" stroke-width="1"/>
<rect x="103.04" y="558.70" width="1.92" height="9.65" fill="#e9a3a6" stroke="none" stroke-width="1"/>
<rect x="58.44" y="568.35" width="1.92" height="9.65" fill="#e9a3a6" stroke="none" stroke-width="1"/>
<rect x="71.96" y="568.35" width="1.92" height="9.65" fill="#e9a3a6" stroke="none" stroke-width="1"/>
<rect x="76.01" y="568.35" width="1.92" height="9.65" fill="#e9a3a6" stroke="none" stroke-width="1"/>
<rect x="88.17" y="568.35" width="1.92" height="9.65" fill="#e9a3a6" stroke="none" stroke-width="1"/>
<rect x="91.69" y="568.35" width="3.27" height="9.65" fill="#e9a3a6" stroke="none" stroke-width="1"/>
<rect x="101.69" y="568.35" width="2.73" height="9.65" fill="#e9a3a6" stroke="none" stroke-width="1"/>
<rect x="45.05" y="578.00" width="1.80" height="9.65" fill="#e9a3a6" stroke="none" stroke-width="1"/>
<rect x="48.99" y="578.00" width="1.92" height="9.65" fill="#e9a3a6" stroke="none" stroke-width="1"/>
<rect x="60.61" y="578.00" width="3.27" height="9.65" fill="#e9a3a6" stroke="none" stroke-width="1"/>
<rect x="78.71" y="578.00" width="1.92" height="9.65" fill="#e9a3a6" stroke="none" stroke-width="1"/>
<rect x="98.99" y="578.00" width="3.54" height="9.65" fill="#e9a3a6" stroke="none" stroke-width="1"/>
<rect x="114.93" y="462.20" width="1.92" height="9.65" fill="#e9a3a6" stroke="none" stroke-width="1"/>
<rect x="144.39" y="510.45" width="1.65" height="9.65" fill="#e9a3a6" stroke="none" stroke-width="1"/>
<rect x="144.93" y="539.40" width="1.38" height="9.65" fill="#e9a3a6" stroke="none" stroke-width="1"/>
<rect x="178.04" y="539.40" width="1.65" height="9.65" fill="#e9a3a6" stroke="none" stroke-width="1"/>
<rect x="118.58" y="549.05" width="2.33" height="9.65" fill="#e9a3a6" stroke="none" stroke-width="1"/>
<rect x="126.01" y="549.05" width="1.65" height="9.65" fill="#e9a3a6" stroke="none" stroke-width="1"/>
<rect x="139.53" y="549.05" width="2.33" height="9.65" fill="#e9a3a6" stroke="none" stroke-width="1"/>
<rect x="154.39" y="549.05" width="1.92" height="9.65" fill="#e9a3a6" stroke="none" stroke-width="1"/>
<rect x="162.77" y="549.05" width="1.65" height="9.65" fill="#e9a3a6" stroke="none" stroke-width="1"/>
<rect x="175.74" y="549.05" width="1.92" height="9.65" fill="#e9a3a6" stroke="none" stroke-width="1"/>
<rect x="180.07" y="549.05" width="1.65" height="9.65" fill="#e9a3a6" stroke="none" stroke-width="1"/>
<rect x="113.85" y="558.70" width="1.65" height="9.65" fill="#e9a3a6" stroke="none" stroke-width="1"/>
<rect x="123.99" y="558.70" width="2.33" height="9.65" fill="#e9a3a6" stroke="none" stroke-width="1"/>
<rect x="130.07" y="558.70" width="1.65" height="9.65" fill="#e9a3a6" stroke="none" stroke-width="1"/>
<rect x="132.77" y="558.70" width="2.33" height="9.65" fill="#e9a3a6" stroke="none" stroke-width="1"/>
<rect x="142.90" y="558.70" width="1.65" height="9.65" fill="#e9a3a6" stroke="none" stroke-width="1"/>
<rect x="149.66" y="558.70" width="2.33" height="9.65" fill="#e9a3a6" stroke="none" stroke-width="1"/>
<rect x="156.01" y="558.70" width="1.65" height="9.65" fill="#e9a3a6" stroke="none" stroke-width="1"/>
<rect x="161.82" y="558.70" width="2.06" height="9.65" fill="#e9a3a6" stroke="none" stroke-width="1"/>
<rect x="173.31" y="558.70" width="2.33" height="9.65" fill="#e9a3a6" stroke="none" stroke-width="1"/>
<rect x="176.69" y="558.70" width="3.00" height="9.65" fill="#e9a3a6" stroke="none" stroke-width="1"/>
<rect x="181.42" y="558.70" width="2.33" height="9.65" fill="#e9a3a6" stroke="none" stroke-width="1"/>
<rect x="116.55" y="568.35" width="1.65" height="9.65" fill="#e9a3a6" stroke="none" stroke-width="1"/>
<rect x="121.28" y="568.35" width="2.33" height="9.65" fill="#e9a3a6" stroke="none" stroke-width="1"/>
<rect x="130.07" y="568.35" width="3.00" height="9.65" fill="#e9a3a6" stroke="none" stroke-width="1"/>
<rect x="136.82" y="568.35" width="4.35" height="9.65" fill="#e9a3a6" stroke="none" stroke-width="1"/>
<rect x="148.31" y="568.35" width="2.33" height="9.65" fill="#e9a3a6" stroke="none" stroke-width="1"/>
<rect x="154.39" y="568.35" width="1.92" height="9.65" fill="#e9a3a6" stroke="none" stroke-width="1"/>
<rect x="160.47" y="568.35" width="2.33" height="9.65" fill="#e9a3a6" stroke="none" stroke-width="1"/>
<rect x="172.63" y="568.35" width="2.33" height="9.65" fill="#e9a3a6" stroke="none" stroke-width="1"/>
<rect x="116.55" y="578.00" width="1.65" height="9.65" fill="#e9a3a6" stroke="none" stroke-width="1"/>
<rect x="121.28" y="578.00" width="1.65" height="9.65" fill="#e9a3a6" stroke="none" stroke-width="1"/>
<rect x="136.15" y="578.00" width="2.33" height="9.65" fill="#e9a3a6" stroke="none" stroke-width="1"/>
<rect x="143.58" y="578.00" width="3.68" height="9.65" fill="#e9a3a6" stroke="none" stroke-width="1"/>
<rect x="146.96" y="578.00" width="3.68" height="9.65" fill="#e9a3a6" stroke="none" stroke-width="1"/>
<rect x="165.20" y="578.00" width="2.33" height="9.65" fill="#e9a3a6" stroke="none" stroke-width="1"/>
<rect x="173.31" y="578.00" width="2.33" height="9.65" fill="#e9a3a6" stroke="none" stroke-width="1"/>
<rect x="226.15" y="433.25" width="1.65" height="9.65" fill="#e9a3a6" stroke="none" stroke-width="1"/>
<rect x="200.07" y="462.20" width="5.03" height="9.65" fill="#e9a3a6" stroke="none" stroke-width="1"/>
<rect x="210.20" y="462.20" width="1.65" height="9.65" fill="#e9a3a6" stroke="none" stroke-width="1"/>
<rect x="223.04" y="462.20" width="1.65" height="9.65" fill="#e9a3a6" stroke="none" stroke-width="1"/>
<rect x="225.07" y="462.20" width="1.65" height="9.65" fill="#e9a3a6" stroke="none" stroke-width="1"/>
<rect x="233.85" y="462.20" width="2.33" height="9.65" fill="#e9a3a6" stroke="none" stroke-width="1"/>
<rect x="241.28" y="462.20" width="2.33" height="9.65" fill="#e9a3a6" stroke="none" stroke-width="1"/>
<rect x="234.12" y="481.50" width="2.06" height="9.65" fill="#e9a3a6" stroke="none" stroke-width="1"/>
<rect x="234.12" y="491.15" width="2.06" height="9.65" fill="#e9a3a6" stroke="none" stroke-width="1"/>
<rect x="233.85" y="520.10" width="2.33" height="9.65" fill="#e9a3a6" stroke="none" stroke-width="1"/>
<rect x="233.85" y="529.75" width="2.33" height="9.65" fill="#e9a3a6" stroke="none" stroke-width="1"/>
<rect x="233.85" y="539.40" width="2.33" height="9.65" fill="#e9a3a6" stroke="none" stroke-width="1"/>
<rect x="192.23" y="549.05" width="2.73" height="9.65" fill="#e9a3a6" stroke="none" stroke-width="1"/>
<rect x="223.04" y="549.05" width="1.65" height="9.65" fill="#e9a3a6" stroke="none" stroke-width="1"/>
<rect x="249.80" y="549.05" width="3.27" height="9.65" fill="#e9a3a6" stroke="none" stroke-width="1"/>
<rect x="196.69" y="568.35" width="3.00" height="9.65" fill="#e9a3a6" stroke="none" stroke-width="1"/>
<rect x="214.93" y="568.35" width="3.00" height="9.65" fill="#e9a3a6" stroke="none" stroke-width="1"/>
<rect x="228.44" y="568.35" width="3.00" height="9.65" fill="#e9a3a6" stroke="none" stroke-width="1"/>
<rect x="242.23" y="568.35" width="1.38" height="9.65" fill="#e9a3a6" stroke="none" stroke-width="1"/>
<rect x="187.63" y="578.00" width="3.00" height="9.65" fill="#e9a3a6" stroke="none" stroke-width="1"/>
<rect x="231.82" y="578.00" width="3.00" height="9.65" fill="#e9a3a6" stroke="none" stroke-width="1"/>
<rect x="316.01" y="452.55" width="3.00" height="9.65" fill="#e9a3a6" stroke="none" stroke-width="1"/>
<rect x="253.85" y="462.20" width="5.03" height="9.65" fill="#e9a3a6" stroke="none" stroke-width="1"/>
<rect x="302.50" y="462.20" width="3.27" height="9.65" fill="#e9a3a6" stroke="none" stroke-width="1"/>
<rect x="307.23" y="462.20" width="3.00" height="9.65" fill="#e9a3a6" stroke="none" stroke-width="1"/>
<rect x="318.44" y="462.20" width="4.89" height="9.65" fill="#e9a3a6" stroke="none" stroke-width="1"/>
<rect x="316.01" y="510.45" width="1.65" height="9.65" fill="#e9a3a6" stroke="none" stroke-width="1"/>
<rect x="304.93" y="520.10" width="1.38" height="9.65" fill="#e9a3a6" stroke="none" stroke-width="1"/>
<rect x="316.01" y="520.10" width="1.65" height="9.65" fill="#e9a3a6" stroke="none" stroke-width="1"/>
<rect x="303.17" y="529.75" width="3.00" height="9.65" fill="#e9a3a6" stroke="none" stroke-width="1"/>
<rect x="316.01" y="529.75" width="1.65" height="9.65" fill="#e9a3a6" stroke="none" stroke-width="1"/>
<rect x="266.01" y="539.40" width="2.73" height="9.65" fill="#e9a3a6" stroke="none" stroke-width="1"/>
<rect x="318.04" y="539.40" width="2.60" height="9.65" fill="#e9a3a6" stroke="none" stroke-width="1"/>
<rect x="253.85" y="549.05" width="1.65" height="9.65" fill="#e9a3a6" stroke="none" stroke-width="1"/>
<rect x="257.63" y="549.05" width="1.92" height="9.65" fill="#e9a3a6" stroke="none" stroke-width="1"/>
<rect x="266.01" y="549.05" width="1.65" height="9.65" fill="#e9a3a6" stroke="none" stroke-width="1"/>
<rect x="286.28" y="549.05" width="2.33" height="9.65" fill="#e9a3a6" stroke="none" stroke-width="1"/>
<rect x="293.71" y="549.05" width="3.00" height="9.65" fill="#e9a3a6" stroke="none" stroke-width="1"/>
<rect x="303.17" y="549.05" width="3.68" height="9.65" fill="#e9a3a6" stroke="none" stroke-width="1"/>
<rect x="313.31" y="549.05" width="1.65" height="9.65" fill="#e9a3a6" stroke="none" stroke-width="1"/>
<rect x="317.36" y="549.05" width="2.33" height="9.65" fill="#e9a3a6" stroke="none" stroke-width="1"/>
<rect x="320.07" y="549.05" width="4.08" height="9.65" fill="#e9a3a6" stroke="none" stroke-width="1"/>
<rect x="255.20" y="558.70" width="2.33" height="9.65" fill="#e9a3a6" stroke="none" stroke-width="1"/>
<rect x="270.07" y="558.70" width="1.65" height="9.65" fill="#e9a3a6" stroke="none" stroke-width="1"/>
<rect x="284.66" y="558.70" width="1.65" height="9.65" fill="#e9a3a6" stroke="none" stroke-width="1"/>
<rect x="297.09" y="558.70" width="1.65" height="9.65" fill="#e9a3a6" stroke="none" stroke-width="1"/>
<rect x="307.90" y="558.70" width="1.65" height="9.65" fill="#e9a3a6" stroke="none" stroke-width="1"/>
<rect x="313.31" y="558.70" width="1.65" height="9.65" fill="#e9a3a6" stroke="none" stroke-width="1"/>
<rect x="255.20" y="568.35" width="1.65" height="9.65" fill="#e9a3a6" stroke="none" stroke-width="1"/>
<rect x="260.34" y="568.35" width="2.19" height="9.65" fill="#e9a3a6" stroke="none" stroke-width="1"/>
<rect x="267.09" y="568.35" width="1.92" height="9.65" fill="#e9a3a6" stroke="none" stroke-width="1"/>
<rect x="277.50" y="568.35" width="1.65" height="9.65" fill="#e9a3a6" stroke="none" stroke-width="1"/>
<rect x="281.55" y="568.35" width="1.65" height="9.65" fill="#e9a3a6" stroke="none" stroke-width="1"/>
<rect x="288.31" y="568.35" width="1.65" height="9.65" fill="#e9a3a6" stroke="none" stroke-width="1"/>
<rect x="298.44" y="568.35" width="2.33" height="9.65" fill="#e9a3a6" stroke="none" stroke-width="1"/>
<rect x="309.26" y="568.35" width="1.65" height="9.65" fill="#e9a3a6" stroke="none" stroke-width="1"/>
<rect x="297.09" y="578.00" width="2.33" height="9.65" fill="#e9a3a6" stroke="none" stroke-width="1"/>
<rect x="320.07" y="578.00" width="3.00" height="9.65" fill="#e9a3a6" stroke="none" stroke-width="1"/>
<rect x="324.93" y="423.60" width="1.65" height="9.65" fill="#e9a3a6" stroke="none" stroke-width="1"/>
<rect x="327.63" y="423.60" width="3.00" height="9.65" fill="#e9a3a6" stroke="none" stroke-width="1"/>
<rect x="381.96" y="423.60" width="1.65" height="9.65" fill="#e9a3a6" stroke="none" stroke-width="1"/>
<rect x="335.34" y="433.25" width="3.41" height="9.65" fill="#e9a3a6" stroke="none" stroke-width="1"/>
<rect x="352.90" y="433.25" width="3.68" height="9.65" fill="#e9a3a6" stroke="none" stroke-width="1"/>
<rect x="335.34" y="442.90" width="1.65" height="9.65" fill="#e9a3a6" stroke="none" stroke-width="1"/>
<rect x="377.90" y="452.55" width="1.65" height="9.65" fill="#e9a3a6" stroke="none" stroke-width="1"/>
<rect x="334.39" y="462.20" width="1.92" height="9.65" fill="#e9a3a6" stroke="none" stroke-width="1"/>
<rect x="340.74" y="462.20" width="2.33" height="9.65" fill="#e9a3a6" stroke="none" stroke-width="1"/>
<rect x="344.39" y="462.20" width="2.73" height="9.65" fill="#e9a3a6" stroke="none" stroke-width="1"/>
<rect x="381.96" y="462.20" width="1.65" height="9.65" fill="#e9a3a6" stroke="none" stroke-width="1"/>
<rect x="330.61" y="471.85" width="3.27" height="9.65" fill="#e9a3a6" stroke="none" stroke-width="1"/>
<rect x="335.34" y="471.85" width="1.65" height="9.65" fill="#e9a3a6" stroke="none" stroke-width="1"/>
<rect x="330.61" y="481.50" width="3.27" height="9.65" fill="#e9a3a6" stroke="none" stroke-width="1"/>
<rect x="335.34" y="481.50" width="1.65" height="9.65" fill="#e9a3a6" stroke="none" stroke-width="1"/>
<rect x="335.34" y="491.15" width="1.65" height="9.65" fill="#e9a3a6" stroke="none" stroke-width="1"/>
<rect x="335.34" y="500.80" width="1.65" height="9.65" fill="#e9a3a6" stroke="none" stroke-width="1"/>
<rect x="342.77" y="510.45" width="5.03" height="9.65" fill="#e9a3a6" stroke="none" stroke-width="1"/>
<rect x="362.36" y="510.45" width="1.38" height="9.65" fill="#e9a3a6" stroke="none" stroke-width="1"/>
<rect x="330.88" y="520.10" width="3.00" height="9.65" fill="#e9a3a6" stroke="none" stroke-width="1"/>
<rect x="344.12" y="520.10" width="1.92" height="9.65" fill="#e9a3a6" stroke="none" stroke-width="1"/>
<rect x="348.85" y="520.10" width="1.65" height="9.65" fill="#e9a3a6" stroke="none" stroke-width="1"/>
<rect x="362.36" y="520.10" width="1.38" height="9.65" fill="#e9a3a6" stroke="none" stroke-width="1"/>
<rect x="338.71" y="529.75" width="1.65" height="9.65" fill="#e9a3a6" stroke="none" stroke-width="1"/>
<rect x="362.36" y="529.75" width="1.38" height="9.65" fill="#e9a3a6" stroke="none" stroke-width="1"/>
<rect x="333.99" y="539.40" width="1.65" height="9.65" fill="#e9a3a6" stroke="none" stroke-width="1"/>
<rect x="341.42" y="539.40" width="1.65" height="9.65" fill="#e9a3a6" stroke="none" stroke-width="1"/>
<rect x="360.34" y="539.40" width="1.65" height="9.65" fill="#e9a3a6" stroke="none" stroke-width="1"/>
<rect x="327.90" y="549.05" width="1.65" height="9.65" fill="#e9a3a6" stroke="none" stroke-width="1"/>
<rect x="334.66" y="549.05" width="2.33" height="9.65" fill="#e9a3a6" stroke="none" stroke-width="1"/>
<rect x="344.12" y="549.05" width="2.33" height="9.65" fill="#e9a3a6" stroke="none" stroke-width="1"/>
<rect x="358.31" y="549.05" width="3.00" height="9.65" fill="#e9a3a6" stroke="none" stroke-width="1"/>
<rect x="371.15" y="549.05" width="1.65" height="9.65" fill="#e9a3a6" stroke="none" stroke-width="1"/>
<rect x="339.39" y="558.70" width="1.65" height="9.65" fill="#e9a3a6" stroke="none" stroke-width="1"/>
<rect x="379.26" y="558.70" width="1.65" height="9.65" fill="#e9a3a6" stroke="none" stroke-width="1"/>
<rect x="323.85" y="568.35" width="1.65" height="9.65" fill="#e9a3a6" stroke="none" stroke-width="1"/>
<rect x="336.69" y="568.35" width="1.65" height="9.65" fill="#e9a3a6" stroke="none" stroke-width="1"/>
<rect x="342.77" y="568.35" width="1.65" height="9.65" fill="#e9a3a6" stroke="none" stroke-width="1"/>
<rect x="349.53" y="568.35" width="2.33" height="9.65" fill="#e9a3a6" stroke="none" stroke-width="1"/>
<rect x="361.01" y="568.35" width="2.33" height="9.65" fill="#e9a3a6" stroke="none" stroke-width="1"/>
<rect x="371.15" y="568.35" width="1.65" height="9.65" fill="#e9a3a6" stroke="none" stroke-width="1"/>
<rect x="390.74" y="568.35" width="1.65" height="9.65" fill="#e9a3a6" stroke="none" stroke-width="1"/>
<rect x="324.53" y="578.00" width="1.65" height="9.65" fill="#e9a3a6" stroke="none" stroke-width="1"/>
<rect x="344.12" y="578.00" width="3.68" height="9.65" fill="#e9a3a6" stroke="none" stroke-width="1"/>
<rect x="370.47" y="578.00" width="2.33" height="9.65" fill="#e9a3a6" stroke="none" stroke-width="1"/>
<rect x="380.61" y="578.00" width="2.33" height="9.65" fill="#e9a3a6" stroke="none" stroke-width="1"/>
<rect x="395.35" y="549.05" width="2.10" height="9.65" fill="#e9a3a6" stroke="none" stroke-width="1"/>
<rect x="392.05" y="578.00" width="4.30" height="9.65" fill="#e9a3a6" stroke="none" stroke-width="1"/>
<rect x="47.36" y="423.60" width="1.38" height="9.65" fill="#bd6473" stroke="none" stroke-width="1"/>
<rect x="83.85" y="423.60" width="1.38" height="9.65" fill="#bd6473" stroke="none" stroke-width="1"/>
<rect x="93.58" y="423.60" width="1.38" height="9.65" fill="#bd6473" stroke="none" stroke-width="1"/>
<rect x="110.47" y="423.60" width="1.38" height="9.65" fill="#bd6473" stroke="none" stroke-width="1"/>
<rect x="45.05" y="433.25" width="0.99" height="9.65" fill="#bd6473" stroke="none" stroke-width="1"/>
<rect x="52.09" y="433.25" width="1.38" height="9.65" fill="#bd6473" stroke="none" stroke-width="1"/>
<rect x="60.61" y="433.25" width="1.38" height="9.65" fill="#bd6473" stroke="none" stroke-width="1"/>
<rect x="91.96" y="433.25" width="1.38" height="9.65" fill="#bd6473" stroke="none" stroke-width="1"/>
<rect x="97.63" y="433.25" width="1.38" height="9.65" fill="#bd6473" stroke="none" stroke-width="1"/>
<rect x="45.05" y="442.90" width="0.99" height="9.65" fill="#bd6473" stroke="none" stroke-width="1"/>
<rect x="84.53" y="442.90" width="1.38" height="9.65" fill="#bd6473" stroke="none" stroke-width="1"/>
<rect x="82.50" y="452.55" width="1.38" height="9.65" fill="#bd6473" stroke="none" stroke-width="1"/>
<rect x="100.74" y="452.55" width="1.38" height="9.65" fill="#bd6473" stroke="none" stroke-width="1"/>
<rect x="109.12" y="452.55" width="1.38" height="9.65" fill="#bd6473" stroke="none" stroke-width="1"/>
<rect x="50.74" y="462.20" width="1.38" height="9.65" fill="#bd6473" stroke="none" stroke-width="1"/>
<rect x="61.28" y="462.20" width="1.38" height="9.65" fill="#bd6473" stroke="none" stroke-width="1"/>
<rect x="76.01" y="462.20" width="1.65" height="9.65" fill="#bd6473" stroke="none" stroke-width="1"/>
<rect x="89.66" y="462.20" width="1.38" height="9.65" fill="#bd6473" stroke="none" stroke-width="1"/>
<rect x="98.99" y="462.20" width="1.38" height="9.65" fill="#bd6473" stroke="none" stroke-width="1"/>
<rect x="103.17" y="462.20" width="1.38" height="9.65" fill="#bd6473" stroke="none" stroke-width="1"/>
<rect x="112.90" y="462.20" width="1.25" height="9.65" fill="#bd6473" stroke="none" stroke-width="1"/>
<rect x="47.09" y="471.85" width="1.38" height="9.65" fill="#bd6473" stroke="none" stroke-width="1"/>
<rect x="103.17" y="520.10" width="1.38" height="9.65" fill="#bd6473" stroke="none" stroke-width="1"/>
<rect x="46.82" y="539.40" width="3.00" height="9.65" fill="#bd6473" stroke="none" stroke-width="1"/>
<rect x="68.71" y="539.40" width="1.38" height="9.65" fill="#bd6473" stroke="none" stroke-width="1"/>
<rect x="82.50" y="539.40" width="1.38" height="9.65" fill="#bd6473" stroke="none" stroke-width="1"/>
<rect x="95.34" y="539.40" width="1.38" height="9.65" fill="#bd6473" stroke="none" stroke-width="1"/>
<rect x="57.09" y="549.05" width="1.65" height="9.65" fill="#bd6473" stroke="none" stroke-width="1"/>
<rect x="60.61" y="549.05" width="1.65" height="9.65" fill="#bd6473" stroke="none" stroke-width="1"/>
<rect x="74.39" y="549.05" width="1.65" height="9.65" fill="#bd6473" stroke="none" stroke-width="1"/>
<rect x="78.44" y="549.05" width="3.00" height="9.65" fill="#bd6473" stroke="none" stroke-width="1"/>
<rect x="91.82" y="549.05" width="2.33" height="9.65" fill="#bd6473" stroke="none" stroke-width="1"/>
<rect x="97.90" y="549.05" width="1.65" height="9.65" fill="#bd6473" stroke="none" stroke-width="1"/>
<rect x="56.82" y="558.70" width="1.38" height="9.65" fill="#bd6473" stroke="none" stroke-width="1"/>
<rect x="61.55" y="558.70" width="1.38" height="9.65" fill="#bd6473" stroke="none" stroke-width="1"/>
<rect x="105.74" y="558.70" width="2.73" height="9.65" fill="#bd6473" stroke="none" stroke-width="1"/>
<rect x="55.20" y="568.35" width="1.92" height="9.65" fill="#bd6473" stroke="none" stroke-width="1"/>
<rect x="67.90" y="568.35" width="1.38" height="9.65" fill="#bd6473" stroke="none" stroke-width="1"/>
<rect x="90.34" y="568.35" width="1.65" height="9.65" fill="#bd6473" stroke="none" stroke-width="1"/>
<rect x="95.74" y="568.35" width="1.92" height="9.65" fill="#bd6473" stroke="none" stroke-width="1"/>
<rect x="98.44" y="568.35" width="1.92" height="9.65" fill="#bd6473" stroke="none" stroke-width="1"/>
<rect x="108.71" y="568.35" width="2.46" height="9.65" fill="#bd6473" stroke="none" stroke-width="1"/>
<rect x="111.96" y="568.35" width="1.92" height="9.65" fill="#bd6473" stroke="none" stroke-width="1"/>
<rect x="57.90" y="578.00" width="1.92" height="9.65" fill="#bd6473" stroke="none" stroke-width="1"/>
<rect x="71.42" y="578.00" width="1.92" height="9.65" fill="#bd6473" stroke="none" stroke-width="1"/>
<rect x="76.82" y="578.00" width="1.92" height="9.65" fill="#bd6473" stroke="none" stroke-width="1"/>
<rect x="84.12" y="578.00" width="1.92" height="9.65" fill="#bd6473" stroke="none" stroke-width="1"/>
<rect x="138.58" y="423.60" width="1.38" height="9.65" fill="#bd6473" stroke="none" stroke-width="1"/>
<rect x="142.63" y="423.60" width="1.38" height="9.65" fill="#bd6473" stroke="none" stroke-width="1"/>
<rect x="168.99" y="423.60" width="1.38" height="9.65" fill="#bd6473" stroke="none" stroke-width="1"/>
<rect x="171.42" y="423.60" width="1.38" height="9.65" fill="#bd6473" stroke="none" stroke-width="1"/>
<rect x="115.20" y="433.25" width="1.38" height="9.65" fill="#bd6473" stroke="none" stroke-width="1"/>
<rect x="121.69" y="433.25" width="1.38" height="9.65" fill="#bd6473" stroke="none" stroke-width="1"/>
<rect x="126.55" y="433.25" width="1.38" height="9.65" fill="#bd6473" stroke="none" stroke-width="1"/>
<rect x="145.88" y="433.25" width="1.38" height="9.65" fill="#bd6473" stroke="none" stroke-width="1"/>
<rect x="156.42" y="433.25" width="1.38" height="9.65" fill="#bd6473" stroke="none" stroke-width="1"/>
<rect x="162.77" y="433.25" width="1.38" height="9.65" fill="#bd6473" stroke="none" stroke-width="1"/>
<rect x="167.63" y="433.25" width="1.38" height="9.65" fill="#bd6473" stroke="none" stroke-width="1"/>
<rect x="181.15" y="433.25" width="1.38" height="9.65" fill="#bd6473" stroke="none" stroke-width="1"/>
<rect x="121.15" y="442.90" width="1.38" height="9.65" fill="#bd6473" stroke="none" stroke-width="1"/>
<rect x="141.82" y="442.90" width="1.38" height="9.65" fill="#bd6473" stroke="none" stroke-width="1"/>
<rect x="173.04" y="442.90" width="1.38" height="9.65" fill="#bd6473" stroke="none" stroke-width="1"/>
<rect x="175.47" y="442.90" width="1.38" height="9.65" fill="#bd6473" stroke="none" stroke-width="1"/>
<rect x="177.90" y="442.90" width="1.65" height="9.65" fill="#bd6473" stroke="none" stroke-width="1"/>
<rect x="137.09" y="452.55" width="1.38" height="9.65" fill="#bd6473" stroke="none" stroke-width="1"/>
<rect x="142.50" y="452.55" width="1.38" height="9.65" fill="#bd6473" stroke="none" stroke-width="1"/>
<rect x="151.69" y="452.55" width="1.38" height="9.65" fill="#bd6473" stroke="none" stroke-width="1"/>
<rect x="155.74" y="452.55" width="1.38" height="9.65" fill="#bd6473" stroke="none" stroke-width="1"/>
<rect x="164.26" y="452.55" width="1.38" height="9.65" fill="#bd6473" stroke="none" stroke-width="1"/>
<rect x="168.31" y="452.55" width="1.38" height="9.65" fill="#bd6473" stroke="none" stroke-width="1"/>
<rect x="124.12" y="462.20" width="1.65" height="9.65" fill="#bd6473" stroke="none" stroke-width="1"/>
<rect x="141.15" y="462.20" width="1.38" height="9.65" fill="#bd6473" stroke="none" stroke-width="1"/>
<rect x="146.01" y="462.20" width="3.00" height="9.65" fill="#bd6473" stroke="none" stroke-width="1"/>
<rect x="168.99" y="462.20" width="1.38" height="9.65" fill="#bd6473" stroke="none" stroke-width="1"/>
<rect x="181.15" y="462.20" width="3.00" height="9.65" fill="#bd6473" stroke="none" stroke-width="1"/>
<rect x="157.09" y="471.85" width="1.38" height="9.65" fill="#bd6473" stroke="none" stroke-width="1"/>
<rect x="168.99" y="471.85" width="1.38" height="9.65" fill="#bd6473" stroke="none" stroke-width="1"/>
<rect x="178.99" y="471.85" width="1.38" height="9.65" fill="#bd6473" stroke="none" stroke-width="1"/>
<rect x="168.99" y="481.50" width="1.38" height="9.65" fill="#bd6473" stroke="none" stroke-width="1"/>
<rect x="121.96" y="491.15" width="1.38" height="9.65" fill="#bd6473" stroke="none" stroke-width="1"/>
<rect x="139.26" y="491.15" width="1.38" height="9.65" fill="#bd6473" stroke="none" stroke-width="1"/>
<rect x="142.23" y="491.15" width="1.38" height="9.65" fill="#bd6473" stroke="none" stroke-width="1"/>
<rect x="145.61" y="491.15" width="1.38" height="9.65" fill="#bd6473" stroke="none" stroke-width="1"/>
<rect x="154.66" y="491.15" width="2.73" height="9.65" fill="#bd6473" stroke="none" stroke-width="1"/>
<rect x="158.17" y="491.15" width="1.38" height="9.65" fill="#bd6473" stroke="none" stroke-width="1"/>
<rect x="160.47" y="491.15" width="1.38" height="9.65" fill="#bd6473" stroke="none" stroke-width="1"/>
<rect x="164.12" y="491.15" width="1.65" height="9.65" fill="#bd6473" stroke="none" stroke-width="1"/>
<rect x="158.85" y="500.80" width="1.25" height="9.65" fill="#bd6473" stroke="none" stroke-width="1"/>
<rect x="175.74" y="500.80" width="1.38" height="9.65" fill="#bd6473" stroke="none" stroke-width="1"/>
<rect x="141.96" y="510.45" width="1.38" height="9.65" fill="#bd6473" stroke="none" stroke-width="1"/>
<rect x="168.99" y="510.45" width="1.65" height="9.65" fill="#bd6473" stroke="none" stroke-width="1"/>
<rect x="168.99" y="520.10" width="1.65" height="9.65" fill="#bd6473" stroke="none" stroke-width="1"/>
<rect x="149.66" y="529.75" width="1.38" height="9.65" fill="#bd6473" stroke="none" stroke-width="1"/>
<rect x="163.85" y="529.75" width="1.38" height="9.65" fill="#bd6473" stroke="none" stroke-width="1"/>
<rect x="168.99" y="529.75" width="1.65" height="9.65" fill="#bd6473" stroke="none" stroke-width="1"/>
<rect x="146.28" y="539.40" width="1.65" height="9.65" fill="#bd6473" stroke="none" stroke-width="1"/>
<rect x="164.53" y="539.40" width="1.65" height="9.65" fill="#bd6473" stroke="none" stroke-width="1"/>
<rect x="120.61" y="549.05" width="3.00" height="9.65" fill="#bd6473" stroke="none" stroke-width="1"/>
<rect x="145.61" y="549.05" width="1.65" height="9.65" fill="#bd6473" stroke="none" stroke-width="1"/>
<rect x="157.36" y="549.05" width="3.41" height="9.65" fill="#bd6473" stroke="none" stroke-width="1"/>
<rect x="146.28" y="558.70" width="1.65" height="9.65" fill="#bd6473" stroke="none" stroke-width="1"/>
<rect x="164.53" y="558.70" width="2.33" height="9.65" fill="#bd6473" stroke="none" stroke-width="1"/>
<rect x="176.01" y="578.00" width="1.65" height="9.65" fill="#bd6473" stroke="none" stroke-width="1"/>
<rect x="241.96" y="423.60" width="1.38" height="9.65" fill="#bd6473" stroke="none" stroke-width="1"/>
<rect x="244.39" y="423.60" width="1.38" height="9.65" fill="#bd6473" stroke="none" stroke-width="1"/>
<rect x="212.77" y="433.25" width="1.38" height="9.65" fill="#bd6473" stroke="none" stroke-width="1"/>
<rect x="223.85" y="433.25" width="1.38" height="9.65" fill="#bd6473" stroke="none" stroke-width="1"/>
<rect x="238.17" y="433.25" width="1.38" height="9.65" fill="#bd6473" stroke="none" stroke-width="1"/>
<rect x="244.66" y="433.25" width="1.65" height="9.65" fill="#bd6473" stroke="none" stroke-width="1"/>
<rect x="201.15" y="452.55" width="1.38" height="9.65" fill="#bd6473" stroke="none" stroke-width="1"/>
<rect x="215.74" y="452.55" width="1.38" height="9.65" fill="#bd6473" stroke="none" stroke-width="1"/>
<rect x="233.85" y="452.55" width="1.38" height="9.65" fill="#bd6473" stroke="none" stroke-width="1"/>
<rect x="250.07" y="452.55" width="1.65" height="9.65" fill="#bd6473" stroke="none" stroke-width="1"/>
<rect x="197.09" y="462.20" width="1.65" height="9.65" fill="#bd6473" stroke="none" stroke-width="1"/>
<rect x="215.74" y="462.20" width="1.38" height="9.65" fill="#bd6473" stroke="none" stroke-width="1"/>
<rect x="229.53" y="462.20" width="1.38" height="9.65" fill="#bd6473" stroke="none" stroke-width="1"/>
<rect x="237.63" y="462.20" width="3.27" height="9.65" fill="#bd6473" stroke="none" stroke-width="1"/>
<rect x="243.58" y="462.20" width="1.65" height="9.65" fill="#bd6473" stroke="none" stroke-width="1"/>
<rect x="249.53" y="462.20" width="1.38" height="9.65" fill="#bd6473" stroke="none" stroke-width="1"/>
<rect x="233.85" y="471.85" width="1.38" height="9.65" fill="#bd6473" stroke="none" stroke-width="1"/>
<rect x="184.93" y="491.15" width="1.65" height="9.65" fill="#bd6473" stroke="none" stroke-width="1"/>
<rect x="191.69" y="491.15" width="1.65" height="9.65" fill="#bd6473" stroke="none" stroke-width="1"/>
<rect x="214.93" y="491.15" width="1.38" height="9.65" fill="#bd6473" stroke="none" stroke-width="1"/>
<rect x="246.28" y="491.15" width="1.38" height="9.65" fill="#bd6473" stroke="none" stroke-width="1"/>
<rect x="214.93" y="500.80" width="1.38" height="9.65" fill="#bd6473" stroke="none" stroke-width="1"/>
<rect x="233.85" y="500.80" width="1.38" height="9.65" fill="#bd6473" stroke="none" stroke-width="1"/>
<rect x="227.90" y="510.45" width="1.38" height="9.65" fill="#bd6473" stroke="none" stroke-width="1"/>
<rect x="233.85" y="510.45" width="1.38" height="9.65" fill="#bd6473" stroke="none" stroke-width="1"/>
<rect x="204.39" y="520.10" width="1.38" height="9.65" fill="#bd6473" stroke="none" stroke-width="1"/>
<rect x="183.85" y="529.75" width="1.11" height="9.65" fill="#bd6473" stroke="none" stroke-width="1"/>
<rect x="191.69" y="539.40" width="1.38" height="9.65" fill="#bd6473" stroke="none" stroke-width="1"/>
<rect x="199.80" y="539.40" width="1.65" height="9.65" fill="#bd6473" stroke="none" stroke-width="1"/>
<rect x="212.50" y="539.40" width="1.38" height="9.65" fill="#bd6473" stroke="none" stroke-width="1"/>
<rect x="246.28" y="539.40" width="1.38" height="9.65" fill="#bd6473" stroke="none" stroke-width="1"/>
<rect x="195.74" y="549.05" width="1.38" height="9.65" fill="#bd6473" stroke="none" stroke-width="1"/>
<rect x="204.12" y="549.05" width="1.65" height="9.65" fill="#bd6473" stroke="none" stroke-width="1"/>
<rect x="207.09" y="549.05" width="1.38" height="9.65" fill="#bd6473" stroke="none" stroke-width="1"/>
<rect x="214.93" y="549.05" width="1.38" height="9.65" fill="#bd6473" stroke="none" stroke-width="1"/>
<rect x="219.66" y="549.05" width="1.38" height="9.65" fill="#bd6473" stroke="none" stroke-width="1"/>
<rect x="224.39" y="549.05" width="1.65" height="9.65" fill="#bd6473" stroke="none" stroke-width="1"/>
<rect x="233.85" y="549.05" width="1.65" height="9.65" fill="#bd6473" stroke="none" stroke-width="1"/>
<rect x="241.69" y="549.05" width="2.60" height="9.65" fill="#bd6473" stroke="none" stroke-width="1"/>
<rect x="246.69" y="549.05" width="1.65" height="9.65" fill="#bd6473" stroke="none" stroke-width="1"/>
<rect x="183.85" y="558.70" width="1.11" height="9.65" fill="#bd6473" stroke="none" stroke-width="1"/>
<rect x="191.69" y="558.70" width="1.38" height="9.65" fill="#bd6473" stroke="none" stroke-width="1"/>
<rect x="198.99" y="558.70" width="1.38" height="9.65" fill="#bd6473" stroke="none" stroke-width="1"/>
<rect x="223.85" y="558.70" width="1.38" height="9.65" fill="#bd6473" stroke="none" stroke-width="1"/>
<rect x="227.09" y="558.70" width="1.65" height="9.65" fill="#bd6473" stroke="none" stroke-width="1"/>
<rect x="233.58" y="558.70" width="1.38" height="9.65" fill="#bd6473" stroke="none" stroke-width="1"/>
<rect x="246.28" y="558.70" width="1.38" height="9.65" fill="#bd6473" stroke="none" stroke-width="1"/>
<rect x="251.42" y="558.70" width="1.38" height="9.65" fill="#bd6473" stroke="none" stroke-width="1"/>
<rect x="201.42" y="568.35" width="1.65" height="9.65" fill="#bd6473" stroke="none" stroke-width="1"/>
<rect x="208.44" y="568.35" width="1.65" height="9.65" fill="#bd6473" stroke="none" stroke-width="1"/>
<rect x="236.55" y="568.35" width="1.65" height="9.65" fill="#bd6473" stroke="none" stroke-width="1"/>
<rect x="204.12" y="578.00" width="1.65" height="9.65" fill="#bd6473" stroke="none" stroke-width="1"/>
<rect x="211.55" y="578.00" width="1.65" height="9.65" fill="#bd6473" stroke="none" stroke-width="1"/>
<rect x="224.12" y="578.00" width="1.38" height="9.65" fill="#bd6473" stroke="none" stroke-width="1"/>
<rect x="272.77" y="423.60" width="1.38" height="9.65" fill="#bd6473" stroke="none" stroke-width="1"/>
<rect x="260.61" y="433.25" width="1.38" height="9.65" fill="#bd6473" stroke="none" stroke-width="1"/>
<rect x="266.28" y="433.25" width="1.38" height="9.65" fill="#bd6473" stroke="none" stroke-width="1"/>
<rect x="294.39" y="433.25" width="1.38" height="9.65" fill="#bd6473" stroke="none" stroke-width="1"/>
<rect x="304.12" y="433.25" width="1.38" height="9.65" fill="#bd6473" stroke="none" stroke-width="1"/>
<rect x="308.17" y="433.25" width="1.38" height="9.65" fill="#bd6473" stroke="none" stroke-width="1"/>
<rect x="311.28" y="442.90" width="1.65" height="9.65" fill="#bd6473" stroke="none" stroke-width="1"/>
<rect x="319.39" y="442.90" width="1.38" height="9.65" fill="#bd6473" stroke="none" stroke-width="1"/>
<rect x="255.47" y="452.55" width="1.38" height="9.65" fill="#bd6473" stroke="none" stroke-width="1"/>
<rect x="265.74" y="452.55" width="1.38" height="9.65" fill="#bd6473" stroke="none" stroke-width="1"/>
<rect x="270.07" y="452.55" width="1.65" height="9.65" fill="#bd6473" stroke="none" stroke-width="1"/>
<rect x="286.55" y="452.55" width="1.38" height="9.65" fill="#bd6473" stroke="none" stroke-width="1"/>
<rect x="297.77" y="452.55" width="1.38" height="9.65" fill="#bd6473" stroke="none" stroke-width="1"/>
<rect x="263.99" y="462.20" width="1.65" height="9.65" fill="#bd6473" stroke="none" stroke-width="1"/>
<rect x="297.77" y="462.20" width="3.00" height="9.65" fill="#bd6473" stroke="none" stroke-width="1"/>
<rect x="265.47" y="471.85" width="1.65" height="9.65" fill="#bd6473" stroke="none" stroke-width="1"/>
<rect x="322.77" y="471.85" width="1.38" height="9.65" fill="#bd6473" stroke="none" stroke-width="1"/>
<rect x="265.47" y="491.15" width="1.65" height="9.65" fill="#bd6473" stroke="none" stroke-width="1"/>
<rect x="322.77" y="491.15" width="1.38" height="9.65" fill="#bd6473" stroke="none" stroke-width="1"/>
<rect x="274.12" y="500.80" width="1.65" height="9.65" fill="#bd6473" stroke="none" stroke-width="1"/>
<rect x="274.12" y="510.45" width="1.65" height="9.65" fill="#bd6473" stroke="none" stroke-width="1"/>
<rect x="302.50" y="510.45" width="1.38" height="9.65" fill="#bd6473" stroke="none" stroke-width="1"/>
<rect x="305.20" y="510.45" width="1.38" height="9.65" fill="#bd6473" stroke="none" stroke-width="1"/>
<rect x="302.50" y="520.10" width="1.38" height="9.65" fill="#bd6473" stroke="none" stroke-width="1"/>
<rect x="307.23" y="529.75" width="1.65" height="9.65" fill="#bd6473" stroke="none" stroke-width="1"/>
<rect x="255.20" y="539.40" width="1.65" height="9.65" fill="#bd6473" stroke="none" stroke-width="1"/>
<rect x="260.61" y="539.40" width="1.38" height="9.65" fill="#bd6473" stroke="none" stroke-width="1"/>
<rect x="285.74" y="539.40" width="1.38" height="9.65" fill="#bd6473" stroke="none" stroke-width="1"/>
<rect x="293.31" y="539.40" width="1.38" height="9.65" fill="#bd6473" stroke="none" stroke-width="1"/>
<rect x="302.77" y="539.40" width="1.38" height="9.65" fill="#bd6473" stroke="none" stroke-width="1"/>
<rect x="310.61" y="539.40" width="1.38" height="9.65" fill="#bd6473" stroke="none" stroke-width="1"/>
<rect x="267.09" y="549.05" width="1.65" height="9.65" fill="#bd6473" stroke="none" stroke-width="1"/>
<rect x="278.17" y="549.05" width="1.65" height="9.65" fill="#bd6473" stroke="none" stroke-width="1"/>
<rect x="285.20" y="549.05" width="1.38" height="9.65" fill="#bd6473" stroke="none" stroke-width="1"/>
<rect x="297.77" y="549.05" width="3.68" height="9.65" fill="#bd6473" stroke="none" stroke-width="1"/>
<rect x="259.93" y="558.70" width="1.65" height="9.65" fill="#bd6473" stroke="none" stroke-width="1"/>
<rect x="266.69" y="558.70" width="2.06" height="9.65" fill="#bd6473" stroke="none" stroke-width="1"/>
<rect x="286.28" y="558.70" width="1.65" height="9.65" fill="#bd6473" stroke="none" stroke-width="1"/>
<rect x="301.15" y="558.70" width="2.33" height="9.65" fill="#bd6473" stroke="none" stroke-width="1"/>
<rect x="304.53" y="558.70" width="2.33" height="9.65" fill="#bd6473" stroke="none" stroke-width="1"/>
<rect x="310.61" y="558.70" width="1.92" height="9.65" fill="#bd6473" stroke="none" stroke-width="1"/>
<rect x="318.04" y="558.70" width="2.60" height="9.65" fill="#bd6473" stroke="none" stroke-width="1"/>
<rect x="270.07" y="568.35" width="1.65" height="9.65" fill="#bd6473" stroke="none" stroke-width="1"/>
<rect x="301.82" y="568.35" width="2.33" height="9.65" fill="#bd6473" stroke="none" stroke-width="1"/>
<rect x="305.88" y="568.35" width="2.33" height="9.65" fill="#bd6473" stroke="none" stroke-width="1"/>
<rect x="255.20" y="578.00" width="1.38" height="9.65" fill="#bd6473" stroke="none" stroke-width="1"/>
<rect x="263.58" y="578.00" width="1.65" height="9.65" fill="#bd6473" stroke="none" stroke-width="1"/>
<rect x="267.36" y="578.00" width="1.65" height="9.65" fill="#bd6473" stroke="none" stroke-width="1"/>
<rect x="277.50" y="578.00" width="1.65" height="9.65" fill="#bd6473" stroke="none" stroke-width="1"/>
<rect x="282.50" y="578.00" width="1.65" height="9.65" fill="#bd6473" stroke="none" stroke-width="1"/>
<rect x="300.47" y="578.00" width="2.33" height="9.65" fill="#bd6473" stroke="none" stroke-width="1"/>
<rect x="335.34" y="423.60" width="1.65" height="9.65" fill="#bd6473" stroke="none" stroke-width="1"/>
<rect x="337.36" y="423.60" width="1.65" height="9.65" fill="#bd6473" stroke="none" stroke-width="1"/>
<rect x="343.44" y="423.60" width="1.65" height="9.65" fill="#bd6473" stroke="none" stroke-width="1"/>
<rect x="348.85" y="423.60" width="1.65" height="9.65" fill="#bd6473" stroke="none" stroke-width="1"/>
<rect x="340.07" y="433.25" width="2.33" height="9.65" fill="#bd6473" stroke="none" stroke-width="1"/>
<rect x="345.47" y="433.25" width="1.65" height="9.65" fill="#bd6473" stroke="none" stroke-width="1"/>
<rect x="350.88" y="433.25" width="1.65" height="9.65" fill="#bd6473" stroke="none" stroke-width="1"/>
<rect x="358.71" y="433.25" width="1.65" height="9.65" fill="#bd6473" stroke="none" stroke-width="1"/>
<rect x="361.01" y="433.25" width="1.65" height="9.65" fill="#bd6473" stroke="none" stroke-width="1"/>
<rect x="380.61" y="433.25" width="1.65" height="9.65" fill="#bd6473" stroke="none" stroke-width="1"/>
<rect x="390.74" y="433.25" width="1.65" height="9.65" fill="#bd6473" stroke="none" stroke-width="1"/>
<rect x="339.39" y="442.90" width="1.65" height="9.65" fill="#bd6473" stroke="none" stroke-width="1"/>
<rect x="345.47" y="442.90" width="1.65" height="9.65" fill="#bd6473" stroke="none" stroke-width="1"/>
<rect x="359.26" y="442.90" width="1.65" height="9.65" fill="#bd6473" stroke="none" stroke-width="1"/>
<rect x="369.12" y="442.90" width="1.65" height="9.65" fill="#bd6473" stroke="none" stroke-width="1"/>
<rect x="342.77" y="452.55" width="1.65" height="9.65" fill="#bd6473" stroke="none" stroke-width="1"/>
<rect x="351.55" y="452.55" width="1.65" height="9.65" fill="#bd6473" stroke="none" stroke-width="1"/>
<rect x="356.28" y="452.55" width="1.65" height="9.65" fill="#bd6473" stroke="none" stroke-width="1"/>
<rect x="362.36" y="452.55" width="1.65" height="9.65" fill="#bd6473" stroke="none" stroke-width="1"/>
<rect x="367.09" y="452.55" width="1.38" height="9.65" fill="#bd6473" stroke="none" stroke-width="1"/>
<rect x="376.28" y="452.55" width="1.38" height="9.65" fill="#bd6473" stroke="none" stroke-width="1"/>
<rect x="381.69" y="452.55" width="1.65" height="9.65" fill="#bd6473" stroke="none" stroke-width="1"/>
<rect x="325.47" y="462.20" width="1.38" height="9.65" fill="#bd6473" stroke="none" stroke-width="1"/>
<rect x="337.36" y="462.20" width="1.65" height="9.65" fill="#bd6473" stroke="none" stroke-width="1"/>
<rect x="352.90" y="462.20" width="1.65" height="9.65" fill="#bd6473" stroke="none" stroke-width="1"/>
<rect x="355.61" y="462.20" width="1.65" height="9.65" fill="#bd6473" stroke="none" stroke-width="1"/>
<rect x="370.47" y="462.20" width="1.65" height="9.65" fill="#bd6473" stroke="none" stroke-width="1"/>
<rect x="385.34" y="462.20" width="1.65" height="9.65" fill="#bd6473" stroke="none" stroke-width="1"/>
<rect x="339.39" y="471.85" width="1.65" height="9.65" fill="#bd6473" stroke="none" stroke-width="1"/>
<rect x="339.39" y="481.50" width="1.65" height="9.65" fill="#bd6473" stroke="none" stroke-width="1"/>
<rect x="360.34" y="481.50" width="1.38" height="9.65" fill="#bd6473" stroke="none" stroke-width="1"/>
<rect x="339.39" y="491.15" width="1.65" height="9.65" fill="#bd6473" stroke="none" stroke-width="1"/>
<rect x="348.85" y="491.15" width="1.65" height="9.65" fill="#bd6473" stroke="none" stroke-width="1"/>
<rect x="360.34" y="491.15" width="1.38" height="9.65" fill="#bd6473" stroke="none" stroke-width="1"/>
<rect x="340.07" y="500.80" width="1.65" height="9.65" fill="#bd6473" stroke="none" stroke-width="1"/>
<rect x="335.34" y="510.45" width="1.65" height="9.65" fill="#bd6473" stroke="none" stroke-width="1"/>
<rect x="384.66" y="510.45" width="1.38" height="9.65" fill="#bd6473" stroke="none" stroke-width="1"/>
<rect x="336.01" y="520.10" width="2.33" height="9.65" fill="#bd6473" stroke="none" stroke-width="1"/>
<rect x="336.01" y="529.75" width="1.65" height="9.65" fill="#bd6473" stroke="none" stroke-width="1"/>
<rect x="355.61" y="529.75" width="1.38" height="9.65" fill="#bd6473" stroke="none" stroke-width="1"/>
<rect x="323.85" y="539.40" width="1.38" height="9.65" fill="#bd6473" stroke="none" stroke-width="1"/>
<rect x="328.58" y="539.40" width="1.65" height="9.65" fill="#bd6473" stroke="none" stroke-width="1"/>
<rect x="337.36" y="539.40" width="1.38" height="9.65" fill="#bd6473" stroke="none" stroke-width="1"/>
<rect x="348.85" y="539.40" width="1.65" height="9.65" fill="#bd6473" stroke="none" stroke-width="1"/>
<rect x="355.61" y="539.40" width="1.65" height="9.65" fill="#bd6473" stroke="none" stroke-width="1"/>
<rect x="363.71" y="539.40" width="1.65" height="9.65" fill="#bd6473" stroke="none" stroke-width="1"/>
<rect x="374.53" y="539.40" width="1.65" height="9.65" fill="#bd6473" stroke="none" stroke-width="1"/>
<rect x="377.90" y="539.40" width="1.38" height="9.65" fill="#bd6473" stroke="none" stroke-width="1"/>
<rect x="381.96" y="539.40" width="1.65" height="9.65" fill="#bd6473" stroke="none" stroke-width="1"/>
<rect x="390.74" y="539.40" width="1.65" height="9.65" fill="#bd6473" stroke="none" stroke-width="1"/>
<rect x="324.53" y="549.05" width="1.65" height="9.65" fill="#bd6473" stroke="none" stroke-width="1"/>
<rect x="337.36" y="549.05" width="1.65" height="9.65" fill="#bd6473" stroke="none" stroke-width="1"/>
<rect x="348.17" y="549.05" width="3.00" height="9.65" fill="#bd6473" stroke="none" stroke-width="1"/>
<rect x="354.93" y="549.05" width="1.65" height="9.65" fill="#bd6473" stroke="none" stroke-width="1"/>
<rect x="362.36" y="549.05" width="2.33" height="9.65" fill="#bd6473" stroke="none" stroke-width="1"/>
<rect x="368.44" y="549.05" width="1.65" height="9.65" fill="#bd6473" stroke="none" stroke-width="1"/>
<rect x="390.74" y="549.05" width="1.65" height="9.65" fill="#bd6473" stroke="none" stroke-width="1"/>
<rect x="329.93" y="578.00" width="1.65" height="9.65" fill="#bd6473" stroke="none" stroke-width="1"/>
<rect x="354.26" y="578.00" width="2.33" height="9.65" fill="#bd6473" stroke="none" stroke-width="1"/>
<rect x="358.99" y="578.00" width="1.65" height="9.65" fill="#bd6473" stroke="none" stroke-width="1"/>
<rect x="366.42" y="578.00" width="2.33" height="9.65" fill="#bd6473" stroke="none" stroke-width="1"/>
<rect x="374.53" y="578.00" width="1.65" height="9.65" fill="#bd6473" stroke="none" stroke-width="1"/>
<rect x="377.23" y="578.00" width="1.65" height="9.65" fill="#bd6473" stroke="none" stroke-width="1"/>
<rect x="386.01" y="578.00" width="1.65" height="9.65" fill="#bd6473" stroke="none" stroke-width="1"/>
<rect x="389.39" y="578.00" width="1.65" height="9.65" fill="#bd6473" stroke="none" stroke-width="1"/>
<rect x="393.85" y="462.20" width="1.80" height="9.65" fill="#bd6473" stroke="none" stroke-width="1"/>
<rect x="394.05" y="510.45" width="1.40" height="9.65" fill="#bd6473" stroke="none" stroke-width="1"/>
<rect x="399.15" y="529.75" width="1.40" height="9.65" fill="#bd6473" stroke="none" stroke-width="1"/>
<rect x="399.15" y="539.40" width="1.40" height="9.65" fill="#bd6473" stroke="none" stroke-width="1"/>
<rect x="396.75" y="558.70" width="1.40" height="9.65" fill="#bd6473" stroke="none" stroke-width="1"/>
<rect x="398.05" y="568.35" width="1.70" height="9.65" fill="#bd6473" stroke="none" stroke-width="1"/>
<rect x="400.25" y="568.35" width="1.30" height="9.65" fill="#bd6473" stroke="none" stroke-width="1"/>
<rect x="398.75" y="578.00" width="2.40" height="9.65" fill="#bd6473" stroke="none" stroke-width="1"/>
<rect x="45.20" y="549.05" width="2.33" height="9.65" fill="#d9232d" stroke="none" stroke-width="1"/>
<rect x="67.09" y="549.05" width="2.73" height="9.65" fill="#d9232d" stroke="none" stroke-width="1"/>
<rect x="105.74" y="549.05" width="1.92" height="9.65" fill="#d9232d" stroke="none" stroke-width="1"/>
<rect x="107.36" y="549.05" width="2.73" height="9.65" fill="#d9232d" stroke="none" stroke-width="1"/>
<rect x="109.80" y="549.05" width="4.35" height="9.65" fill="#d9232d" stroke="none" stroke-width="1"/>
<rect x="45.05" y="558.70" width="4.51" height="9.65" fill="#d9232d" stroke="none" stroke-width="1"/>
<rect x="78.44" y="558.70" width="2.46" height="9.65" fill="#d9232d" stroke="none" stroke-width="1"/>
<rect x="84.80" y="558.70" width="2.60" height="9.65" fill="#d9232d" stroke="none" stroke-width="1"/>
<rect x="91.69" y="558.70" width="1.92" height="9.65" fill="#d9232d" stroke="none" stroke-width="1"/>
<rect x="93.85" y="558.70" width="3.81" height="9.65" fill="#d9232d" stroke="none" stroke-width="1"/>
<rect x="98.99" y="558.70" width="2.73" height="9.65" fill="#d9232d" stroke="none" stroke-width="1"/>
<rect x="108.71" y="558.70" width="5.44" height="9.65" fill="#d9232d" stroke="none" stroke-width="1"/>
<rect x="45.05" y="568.35" width="6.53" height="9.65" fill="#d9232d" stroke="none" stroke-width="1"/>
<rect x="61.15" y="568.35" width="3.54" height="9.65" fill="#d9232d" stroke="none" stroke-width="1"/>
<rect x="82.09" y="568.35" width="2.06" height="9.65" fill="#d9232d" stroke="none" stroke-width="1"/>
<rect x="104.39" y="568.35" width="3.54" height="9.65" fill="#d9232d" stroke="none" stroke-width="1"/>
<rect x="93.58" y="578.00" width="2.73" height="9.65" fill="#d9232d" stroke="none" stroke-width="1"/>
<rect x="103.04" y="578.00" width="3.27" height="9.65" fill="#d9232d" stroke="none" stroke-width="1"/>
<rect x="107.09" y="578.00" width="4.62" height="9.65" fill="#d9232d" stroke="none" stroke-width="1"/>
<rect x="114.53" y="549.05" width="2.06" height="9.65" fill="#d9232d" stroke="none" stroke-width="1"/>
<rect x="128.44" y="549.05" width="2.19" height="9.65" fill="#d9232d" stroke="none" stroke-width="1"/>
<rect x="135.47" y="549.05" width="1.92" height="9.65" fill="#d9232d" stroke="none" stroke-width="1"/>
<rect x="137.09" y="549.05" width="2.06" height="9.65" fill="#d9232d" stroke="none" stroke-width="1"/>
<rect x="148.71" y="549.05" width="3.27" height="9.65" fill="#d9232d" stroke="none" stroke-width="1"/>
<rect x="164.93" y="549.05" width="2.19" height="9.65" fill="#d9232d" stroke="none" stroke-width="1"/>
<rect x="166.82" y="549.05" width="3.00" height="9.65" fill="#d9232d" stroke="none" stroke-width="1"/>
<rect x="173.31" y="549.05" width="2.73" height="9.65" fill="#d9232d" stroke="none" stroke-width="1"/>
<rect x="117.63" y="558.70" width="2.60" height="9.65" fill="#d9232d" stroke="none" stroke-width="1"/>
<rect x="119.93" y="558.70" width="4.35" height="9.65" fill="#d9232d" stroke="none" stroke-width="1"/>
<rect x="127.36" y="558.70" width="2.33" height="9.65" fill="#d9232d" stroke="none" stroke-width="1"/>
<rect x="140.20" y="558.70" width="2.33" height="9.65" fill="#d9232d" stroke="none" stroke-width="1"/>
<rect x="151.69" y="558.70" width="4.35" height="9.65" fill="#d9232d" stroke="none" stroke-width="1"/>
<rect x="158.44" y="558.70" width="2.33" height="9.65" fill="#d9232d" stroke="none" stroke-width="1"/>
<rect x="167.23" y="558.70" width="2.60" height="9.65" fill="#d9232d" stroke="none" stroke-width="1"/>
<rect x="113.85" y="568.35" width="2.33" height="9.65" fill="#d9232d" stroke="none" stroke-width="1"/>
<rect x="118.58" y="568.35" width="1.65" height="9.65" fill="#d9232d" stroke="none" stroke-width="1"/>
<rect x="123.99" y="568.35" width="1.65" height="9.65" fill="#d9232d" stroke="none" stroke-width="1"/>
<rect x="126.69" y="568.35" width="2.33" height="9.65" fill="#d9232d" stroke="none" stroke-width="1"/>
<rect x="134.12" y="568.35" width="2.33" height="9.65" fill="#d9232d" stroke="none" stroke-width="1"/>
<rect x="142.23" y="568.35" width="1.92" height="9.65" fill="#d9232d" stroke="none" stroke-width="1"/>
<rect x="144.93" y="568.35" width="2.33" height="9.65" fill="#d9232d" stroke="none" stroke-width="1"/>
<rect x="151.01" y="568.35" width="2.33" height="9.65" fill="#d9232d" stroke="none" stroke-width="1"/>
<rect x="157.09" y="568.35" width="2.33" height="9.65" fill="#d9232d" stroke="none" stroke-width="1"/>
<rect x="164.53" y="568.35" width="2.60" height="9.65" fill="#d9232d" stroke="none" stroke-width="1"/>
<rect x="169.26" y="568.35" width="3.00" height="9.65" fill="#d9232d" stroke="none" stroke-width="1"/>
<rect x="176.01" y="568.35" width="2.33" height="9.65" fill="#d9232d" stroke="none" stroke-width="1"/>
<rect x="182.09" y="568.35" width="2.06" height="9.65" fill="#d9232d" stroke="none" stroke-width="1"/>
<rect x="118.99" y="578.00" width="1.65" height="9.65" fill="#d9232d" stroke="none" stroke-width="1"/>
<rect x="123.99" y="578.00" width="2.33" height="9.65" fill="#d9232d" stroke="none" stroke-width="1"/>
<rect x="128.71" y="578.00" width="2.33" height="9.65" fill="#d9232d" stroke="none" stroke-width="1"/>
<rect x="134.12" y="578.00" width="1.65" height="9.65" fill="#d9232d" stroke="none" stroke-width="1"/>
<rect x="153.04" y="578.00" width="1.65" height="9.65" fill="#d9232d" stroke="none" stroke-width="1"/>
<rect x="157.77" y="578.00" width="2.33" height="9.65" fill="#d9232d" stroke="none" stroke-width="1"/>
<rect x="163.17" y="578.00" width="2.33" height="9.65" fill="#d9232d" stroke="none" stroke-width="1"/>
<rect x="169.26" y="578.00" width="1.65" height="9.65" fill="#d9232d" stroke="none" stroke-width="1"/>
<rect x="181.42" y="578.00" width="1.92" height="9.65" fill="#d9232d" stroke="none" stroke-width="1"/>
<rect x="185.88" y="568.35" width="1.65" height="9.65" fill="#d9232d" stroke="none" stroke-width="1"/>
<rect x="205.74" y="568.35" width="2.73" height="9.65" fill="#d9232d" stroke="none" stroke-width="1"/>
<rect x="194.39" y="578.00" width="2.19" height="9.65" fill="#d9232d" stroke="none" stroke-width="1"/>
<rect x="196.69" y="578.00" width="2.33" height="9.65" fill="#d9232d" stroke="none" stroke-width="1"/>
<rect x="208.17" y="578.00" width="2.33" height="9.65" fill="#d9232d" stroke="none" stroke-width="1"/>
<rect x="220.34" y="578.00" width="2.33" height="9.65" fill="#d9232d" stroke="none" stroke-width="1"/>
<rect x="234.53" y="578.00" width="2.33" height="9.65" fill="#d9232d" stroke="none" stroke-width="1"/>
<rect x="319.80" y="568.35" width="4.35" height="9.65" fill="#d9232d" stroke="none" stroke-width="1"/>
<rect x="259.93" y="578.00" width="2.06" height="9.65" fill="#d9232d" stroke="none" stroke-width="1"/>
<rect x="286.28" y="578.00" width="7.06" height="9.65" fill="#d9232d" stroke="none" stroke-width="1"/>
<rect x="303.17" y="578.00" width="4.35" height="9.65" fill="#d9232d" stroke="none" stroke-width="1"/>
<rect x="309.26" y="578.00" width="4.35" height="9.65" fill="#d9232d" stroke="none" stroke-width="1"/>
<rect x="313.99" y="578.00" width="3.68" height="9.65" fill="#d9232d" stroke="none" stroke-width="1"/>
<rect x="330.34" y="433.25" width="3.27" height="9.65" fill="#d9232d" stroke="none" stroke-width="1"/>
<rect x="330.34" y="442.90" width="3.27" height="9.65" fill="#d9232d" stroke="none" stroke-width="1"/>
<rect x="352.50" y="442.90" width="4.35" height="9.65" fill="#d9232d" stroke="none" stroke-width="1"/>
<rect x="330.34" y="452.55" width="3.27" height="9.65" fill="#d9232d" stroke="none" stroke-width="1"/>
<rect x="336.01" y="452.55" width="1.65" height="9.65" fill="#d9232d" stroke="none" stroke-width="1"/>
<rect x="330.61" y="462.20" width="3.27" height="9.65" fill="#d9232d" stroke="none" stroke-width="1"/>
<rect x="361.01" y="462.20" width="3.00" height="9.65" fill="#d9232d" stroke="none" stroke-width="1"/>
<rect x="375.20" y="462.20" width="2.73" height="9.65" fill="#d9232d" stroke="none" stroke-width="1"/>
<rect x="330.61" y="491.15" width="3.27" height="9.65" fill="#d9232d" stroke="none" stroke-width="1"/>
<rect x="330.61" y="500.80" width="3.27" height="9.65" fill="#d9232d" stroke="none" stroke-width="1"/>
<rect x="330.88" y="510.45" width="3.00" height="9.65" fill="#d9232d" stroke="none" stroke-width="1"/>
<rect x="329.93" y="529.75" width="3.95" height="9.65" fill="#d9232d" stroke="none" stroke-width="1"/>
<rect x="344.12" y="529.75" width="2.33" height="9.65" fill="#d9232d" stroke="none" stroke-width="1"/>
<rect x="331.28" y="539.40" width="2.60" height="9.65" fill="#d9232d" stroke="none" stroke-width="1"/>
<rect x="331.28" y="549.05" width="2.60" height="9.65" fill="#d9232d" stroke="none" stroke-width="1"/>
<rect x="339.39" y="549.05" width="1.65" height="9.65" fill="#d9232d" stroke="none" stroke-width="1"/>
<rect x="365.07" y="549.05" width="2.33" height="9.65" fill="#d9232d" stroke="none" stroke-width="1"/>
<rect x="373.85" y="549.05" width="3.68" height="9.65" fill="#d9232d" stroke="none" stroke-width="1"/>
<rect x="325.88" y="558.70" width="4.35" height="9.65" fill="#d9232d" stroke="none" stroke-width="1"/>
<rect x="331.28" y="558.70" width="7.06" height="9.65" fill="#d9232d" stroke="none" stroke-width="1"/>
<rect x="341.42" y="558.70" width="7.06" height="9.65" fill="#d9232d" stroke="none" stroke-width="1"/>
<rect x="349.53" y="558.70" width="4.35" height="9.65" fill="#d9232d" stroke="none" stroke-width="1"/>
<rect x="354.26" y="558.70" width="5.71" height="9.65" fill="#d9232d" stroke="none" stroke-width="1"/>
<rect x="361.01" y="558.70" width="4.35" height="9.65" fill="#d9232d" stroke="none" stroke-width="1"/>
<rect x="371.15" y="558.70" width="3.68" height="9.65" fill="#d9232d" stroke="none" stroke-width="1"/>
<rect x="375.88" y="558.70" width="3.00" height="9.65" fill="#d9232d" stroke="none" stroke-width="1"/>
<rect x="326.55" y="568.35" width="2.33" height="9.65" fill="#d9232d" stroke="none" stroke-width="1"/>
<rect x="329.93" y="568.35" width="1.65" height="9.65" fill="#d9232d" stroke="none" stroke-width="1"/>
<rect x="332.63" y="568.35" width="2.33" height="9.65" fill="#d9232d" stroke="none" stroke-width="1"/>
<rect x="339.39" y="568.35" width="2.33" height="9.65" fill="#d9232d" stroke="none" stroke-width="1"/>
<rect x="346.15" y="568.35" width="2.33" height="9.65" fill="#d9232d" stroke="none" stroke-width="1"/>
<rect x="352.90" y="568.35" width="2.33" height="9.65" fill="#d9232d" stroke="none" stroke-width="1"/>
<rect x="357.63" y="568.35" width="2.33" height="9.65" fill="#d9232d" stroke="none" stroke-width="1"/>
<rect x="364.39" y="568.35" width="2.33" height="9.65" fill="#d9232d" stroke="none" stroke-width="1"/>
<rect x="367.09" y="568.35" width="3.68" height="9.65" fill="#d9232d" stroke="none" stroke-width="1"/>
<rect x="373.85" y="568.35" width="2.33" height="9.65" fill="#d9232d" stroke="none" stroke-width="1"/>
<rect x="377.90" y="568.35" width="3.00" height="9.65" fill="#d9232d" stroke="none" stroke-width="1"/>
<rect x="384.66" y="568.35" width="3.00" height="9.65" fill="#d9232d" stroke="none" stroke-width="1"/>
<rect x="327.23" y="578.00" width="1.65" height="9.65" fill="#d9232d" stroke="none" stroke-width="1"/>
<rect x="332.63" y="578.00" width="1.65" height="9.65" fill="#d9232d" stroke="none" stroke-width="1"/>
<rect x="335.34" y="578.00" width="1.65" height="9.65" fill="#d9232d" stroke="none" stroke-width="1"/>
<rect x="338.71" y="578.00" width="2.33" height="9.65" fill="#d9232d" stroke="none" stroke-width="1"/>
<rect x="348.17" y="578.00" width="3.00" height="9.65" fill="#d9232d" stroke="none" stroke-width="1"/>
<rect x="363.04" y="578.00" width="1.65" height="9.65" fill="#d9232d" stroke="none" stroke-width="1"/>
<rect x="46.28" y="462.20" width="3.00" height="9.65" fill="#a81e2e" stroke="none" stroke-width="1"/>
<rect x="173.31" y="433.25" width="1.65" height="9.65" fill="#a81e2e" stroke="none" stroke-width="1"/>
<rect x="146.69" y="452.55" width="1.65" height="9.65" fill="#a81e2e" stroke="none" stroke-width="1"/>
<rect x="113.85" y="491.15" width="2.19" height="9.65" fill="#a81e2e" stroke="none" stroke-width="1"/>
<rect x="140.61" y="539.40" width="1.92" height="9.65" fill="#a81e2e" stroke="none" stroke-width="1"/>
<rect x="157.77" y="539.40" width="1.92" height="9.65" fill="#a81e2e" stroke="none" stroke-width="1"/>
<rect x="168.58" y="539.40" width="1.65" height="9.65" fill="#a81e2e" stroke="none" stroke-width="1"/>
<rect x="179.39" y="568.35" width="2.33" height="9.65" fill="#a81e2e" stroke="none" stroke-width="1"/>
<rect x="233.58" y="442.90" width="2.60" height="9.65" fill="#a81e2e" stroke="none" stroke-width="1"/>
<rect x="183.85" y="452.55" width="1.92" height="9.65" fill="#a81e2e" stroke="none" stroke-width="1"/>
<rect x="183.85" y="462.20" width="1.65" height="9.65" fill="#a81e2e" stroke="none" stroke-width="1"/>
<rect x="186.82" y="462.20" width="1.38" height="9.65" fill="#a81e2e" stroke="none" stroke-width="1"/>
<rect x="197.36" y="539.40" width="1.65" height="9.65" fill="#a81e2e" stroke="none" stroke-width="1"/>
<rect x="186.82" y="558.70" width="1.65" height="9.65" fill="#a81e2e" stroke="none" stroke-width="1"/>
<rect x="248.04" y="568.35" width="2.60" height="9.65" fill="#a81e2e" stroke="none" stroke-width="1"/>
<rect x="260.07" y="423.60" width="1.92" height="9.65" fill="#a81e2e" stroke="none" stroke-width="1"/>
<rect x="322.77" y="423.60" width="1.38" height="9.65" fill="#a81e2e" stroke="none" stroke-width="1"/>
<rect x="288.44" y="433.25" width="1.65" height="9.65" fill="#a81e2e" stroke="none" stroke-width="1"/>
<rect x="310.61" y="433.25" width="1.92" height="9.65" fill="#a81e2e" stroke="none" stroke-width="1"/>
<rect x="318.04" y="452.55" width="2.33" height="9.65" fill="#a81e2e" stroke="none" stroke-width="1"/>
<rect x="315.47" y="462.20" width="1.65" height="9.65" fill="#a81e2e" stroke="none" stroke-width="1"/>
<rect x="259.26" y="549.05" width="2.33" height="9.65" fill="#a81e2e" stroke="none" stroke-width="1"/>
<rect x="290.61" y="549.05" width="2.73" height="9.65" fill="#a81e2e" stroke="none" stroke-width="1"/>
<rect x="310.61" y="549.05" width="2.33" height="9.65" fill="#a81e2e" stroke="none" stroke-width="1"/>
<rect x="280.88" y="558.70" width="1.92" height="9.65" fill="#a81e2e" stroke="none" stroke-width="1"/>
<rect x="330.34" y="423.60" width="3.27" height="9.65" fill="#a81e2e" stroke="none" stroke-width="1"/>
<rect x="374.53" y="423.60" width="2.33" height="9.65" fill="#a81e2e" stroke="none" stroke-width="1"/>
<rect x="375.88" y="433.25" width="2.06" height="9.65" fill="#a81e2e" stroke="none" stroke-width="1"/>
<rect x="361.69" y="442.90" width="1.92" height="9.65" fill="#a81e2e" stroke="none" stroke-width="1"/>
<rect x="324.53" y="452.55" width="1.65" height="9.65" fill="#a81e2e" stroke="none" stroke-width="1"/>
<rect x="337.36" y="452.55" width="3.00" height="9.65" fill="#a81e2e" stroke="none" stroke-width="1"/>
<rect x="348.17" y="452.55" width="2.33" height="9.65" fill="#a81e2e" stroke="none" stroke-width="1"/>
<rect x="375.20" y="471.85" width="1.92" height="9.65" fill="#a81e2e" stroke="none" stroke-width="1"/>
<rect x="374.93" y="491.15" width="1.92" height="9.65" fill="#a81e2e" stroke="none" stroke-width="1"/>
<rect x="385.34" y="549.05" width="2.33" height="9.65" fill="#a81e2e" stroke="none" stroke-width="1"/>
<rect x="394.85" y="442.90" width="2.30" height="9.65" fill="#a81e2e" stroke="none" stroke-width="1"/>
<rect x="398.75" y="549.05" width="2.80" height="9.65" fill="#a81e2e" stroke="none" stroke-width="1"/>
</g>
<text x="405.50" y="432.70" font-family="Liberation Mono, monospace" font-size="9.1" text-anchor="start" font-weight="bold" fill="#1a1a1a" style="stroke:none">MAGEB6</text>
<text x="405.50" y="442.35" font-family="Liberation Mono, monospace" font-size="9.1" text-anchor="start" font-weight="bold" fill="#1a1a1a" style="stroke:none">PAGE2</text>
<text x="405.50" y="452.00" font-family="Liberation Mono, monospace" font-size="9.1" text-anchor="start" font-weight="bold" fill="#1a1a1a" style="stroke:none">CSAG2</text>
<text x="405.50" y="461.65" font-family="Liberation Mono, monospace" font-size="9.1" text-anchor="start" font-weight="bold" fill="#1a1a1a" style="stroke:none">SSX1</text>
<text x="405.50" y="471.30" font-family="Liberation Mono, monospace" font-size="9.1" text-anchor="start" font-weight="bold" fill="#1a1a1a" style="stroke:none">SPANXB2</text>
<text x="405.50" y="480.95" font-family="Liberation Mono, monospace" font-size="9.1" text-anchor="start" font-weight="bold" fill="#1a1a1a" style="stroke:none">GAGE1</text>
<text x="405.50" y="490.60" font-family="Liberation Mono, monospace" font-size="9.1" text-anchor="start" font-weight="bold" fill="#1a1a1a" style="stroke:none">GAGE2A</text>
<text x="405.50" y="500.25" font-family="Liberation Mono, monospace" font-size="9.1" text-anchor="start" font-weight="bold" fill="#1a1a1a" style="stroke:none">MAGEB1</text>
<text x="405.50" y="509.90" font-family="Liberation Mono, monospace" font-size="9.1" text-anchor="start" font-weight="bold" fill="#1a1a1a" style="stroke:none">PAGE1</text>
<text x="405.50" y="519.55" font-family="Liberation Mono, monospace" font-size="9.1" text-anchor="start" font-weight="bold" fill="#1a1a1a" style="stroke:none">SPANXA2</text>
<text x="405.50" y="529.20" font-family="Liberation Mono, monospace" font-size="9.1" text-anchor="start" font-weight="bold" fill="#1a1a1a" style="stroke:none">SPANXE</text>
<text x="405.50" y="538.85" font-family="Liberation Mono, monospace" font-size="9.1" text-anchor="start" font-weight="bold" fill="#1a1a1a" style="stroke:none">SPANXC</text>
<text x="405.50" y="548.50" font-family="Liberation Mono, monospace" font-size="9.1" text-anchor="start" font-weight="bold" fill="#1a1a1a" style="stroke:none">SSX2</text>
<text x="405.50" y="558.15" font-family="Liberation Mono, monospace" font-size="9.1" text-anchor="start" font-weight="bold" fill="#1a1a1a" style="stroke:none">MAGEA10</text>
<text x="405.50" y="567.80" font-family="Liberation Mono, monospace" font-size="9.1" text-anchor="start" font-weight="bold" fill="#1a1a1a" style="stroke:none">C21orf99</text>
<text x="405.50" y="577.45" font-family="Liberation Mono, monospace" font-size="9.1" text-anchor="start" font-weight="bold" fill="#1a1a1a" style="stroke:none">PAGE2B</text>
<text x="405.50" y="587.10" font-family="Liberation Mono, monospace" font-size="9.1" text-anchor="start" font-weight="bold" fill="#1a1a1a" style="stroke:none">MAGEA3</text>
</svg></body></html>
